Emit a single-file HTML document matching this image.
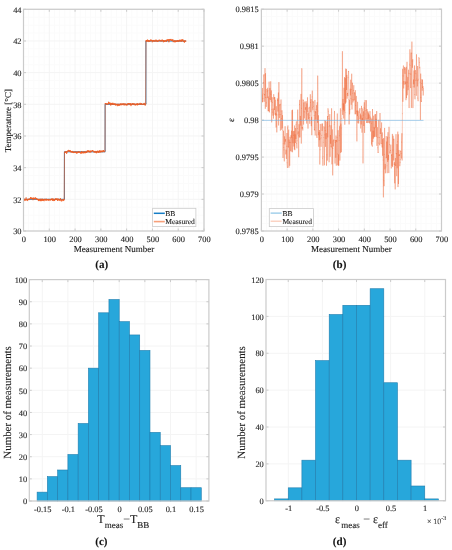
<!DOCTYPE html>
<html><head><meta charset="utf-8"><style>
html,body{margin:0;padding:0;background:#fff;}
svg{display:block;font-family:'Liberation Serif', serif;filter:blur(0.25px);}
text{stroke:#1e1e1e;stroke-width:0.12px;text-rendering:geometricPrecision;}
</style></head><body>
<svg width="452" height="550" viewBox="0 0 452 550">
<rect width="452" height="550" fill="#fff"/>
<line x1="28.66" y1="9.3" x2="28.66" y2="231.0" stroke="#fbfbfb" stroke-width="1"/>
<line x1="33.81" y1="9.3" x2="33.81" y2="231.0" stroke="#fbfbfb" stroke-width="1"/>
<line x1="38.97" y1="9.3" x2="38.97" y2="231.0" stroke="#fbfbfb" stroke-width="1"/>
<line x1="44.13" y1="9.3" x2="44.13" y2="231.0" stroke="#fbfbfb" stroke-width="1"/>
<line x1="54.44" y1="9.3" x2="54.44" y2="231.0" stroke="#fbfbfb" stroke-width="1"/>
<line x1="59.60" y1="9.3" x2="59.60" y2="231.0" stroke="#fbfbfb" stroke-width="1"/>
<line x1="64.76" y1="9.3" x2="64.76" y2="231.0" stroke="#fbfbfb" stroke-width="1"/>
<line x1="69.91" y1="9.3" x2="69.91" y2="231.0" stroke="#fbfbfb" stroke-width="1"/>
<line x1="80.23" y1="9.3" x2="80.23" y2="231.0" stroke="#fbfbfb" stroke-width="1"/>
<line x1="85.39" y1="9.3" x2="85.39" y2="231.0" stroke="#fbfbfb" stroke-width="1"/>
<line x1="90.54" y1="9.3" x2="90.54" y2="231.0" stroke="#fbfbfb" stroke-width="1"/>
<line x1="95.70" y1="9.3" x2="95.70" y2="231.0" stroke="#fbfbfb" stroke-width="1"/>
<line x1="106.01" y1="9.3" x2="106.01" y2="231.0" stroke="#fbfbfb" stroke-width="1"/>
<line x1="111.17" y1="9.3" x2="111.17" y2="231.0" stroke="#fbfbfb" stroke-width="1"/>
<line x1="116.33" y1="9.3" x2="116.33" y2="231.0" stroke="#fbfbfb" stroke-width="1"/>
<line x1="121.49" y1="9.3" x2="121.49" y2="231.0" stroke="#fbfbfb" stroke-width="1"/>
<line x1="131.80" y1="9.3" x2="131.80" y2="231.0" stroke="#fbfbfb" stroke-width="1"/>
<line x1="136.96" y1="9.3" x2="136.96" y2="231.0" stroke="#fbfbfb" stroke-width="1"/>
<line x1="142.11" y1="9.3" x2="142.11" y2="231.0" stroke="#fbfbfb" stroke-width="1"/>
<line x1="147.27" y1="9.3" x2="147.27" y2="231.0" stroke="#fbfbfb" stroke-width="1"/>
<line x1="157.59" y1="9.3" x2="157.59" y2="231.0" stroke="#fbfbfb" stroke-width="1"/>
<line x1="162.74" y1="9.3" x2="162.74" y2="231.0" stroke="#fbfbfb" stroke-width="1"/>
<line x1="167.90" y1="9.3" x2="167.90" y2="231.0" stroke="#fbfbfb" stroke-width="1"/>
<line x1="173.06" y1="9.3" x2="173.06" y2="231.0" stroke="#fbfbfb" stroke-width="1"/>
<line x1="183.37" y1="9.3" x2="183.37" y2="231.0" stroke="#fbfbfb" stroke-width="1"/>
<line x1="188.53" y1="9.3" x2="188.53" y2="231.0" stroke="#fbfbfb" stroke-width="1"/>
<line x1="193.69" y1="9.3" x2="193.69" y2="231.0" stroke="#fbfbfb" stroke-width="1"/>
<line x1="198.84" y1="9.3" x2="198.84" y2="231.0" stroke="#fbfbfb" stroke-width="1"/>
<line x1="23.5" y1="223.08" x2="204.0" y2="223.08" stroke="#fbfbfb" stroke-width="1"/>
<line x1="23.5" y1="215.16" x2="204.0" y2="215.16" stroke="#fbfbfb" stroke-width="1"/>
<line x1="23.5" y1="207.25" x2="204.0" y2="207.25" stroke="#fbfbfb" stroke-width="1"/>
<line x1="23.5" y1="191.41" x2="204.0" y2="191.41" stroke="#fbfbfb" stroke-width="1"/>
<line x1="23.5" y1="183.49" x2="204.0" y2="183.49" stroke="#fbfbfb" stroke-width="1"/>
<line x1="23.5" y1="175.57" x2="204.0" y2="175.57" stroke="#fbfbfb" stroke-width="1"/>
<line x1="23.5" y1="159.74" x2="204.0" y2="159.74" stroke="#fbfbfb" stroke-width="1"/>
<line x1="23.5" y1="151.82" x2="204.0" y2="151.82" stroke="#fbfbfb" stroke-width="1"/>
<line x1="23.5" y1="143.90" x2="204.0" y2="143.90" stroke="#fbfbfb" stroke-width="1"/>
<line x1="23.5" y1="128.07" x2="204.0" y2="128.07" stroke="#fbfbfb" stroke-width="1"/>
<line x1="23.5" y1="120.15" x2="204.0" y2="120.15" stroke="#fbfbfb" stroke-width="1"/>
<line x1="23.5" y1="112.23" x2="204.0" y2="112.23" stroke="#fbfbfb" stroke-width="1"/>
<line x1="23.5" y1="96.40" x2="204.0" y2="96.40" stroke="#fbfbfb" stroke-width="1"/>
<line x1="23.5" y1="88.48" x2="204.0" y2="88.48" stroke="#fbfbfb" stroke-width="1"/>
<line x1="23.5" y1="80.56" x2="204.0" y2="80.56" stroke="#fbfbfb" stroke-width="1"/>
<line x1="23.5" y1="64.72" x2="204.0" y2="64.72" stroke="#fbfbfb" stroke-width="1"/>
<line x1="23.5" y1="56.81" x2="204.0" y2="56.81" stroke="#fbfbfb" stroke-width="1"/>
<line x1="23.5" y1="48.89" x2="204.0" y2="48.89" stroke="#fbfbfb" stroke-width="1"/>
<line x1="23.5" y1="33.05" x2="204.0" y2="33.05" stroke="#fbfbfb" stroke-width="1"/>
<line x1="23.5" y1="25.14" x2="204.0" y2="25.14" stroke="#fbfbfb" stroke-width="1"/>
<line x1="23.5" y1="17.22" x2="204.0" y2="17.22" stroke="#fbfbfb" stroke-width="1"/>
<line x1="23.50" y1="9.3" x2="23.50" y2="231.0" stroke="#f4f4f4" stroke-width="1"/>
<line x1="49.29" y1="9.3" x2="49.29" y2="231.0" stroke="#f4f4f4" stroke-width="1"/>
<line x1="75.07" y1="9.3" x2="75.07" y2="231.0" stroke="#f4f4f4" stroke-width="1"/>
<line x1="100.86" y1="9.3" x2="100.86" y2="231.0" stroke="#f4f4f4" stroke-width="1"/>
<line x1="126.64" y1="9.3" x2="126.64" y2="231.0" stroke="#f4f4f4" stroke-width="1"/>
<line x1="152.43" y1="9.3" x2="152.43" y2="231.0" stroke="#f4f4f4" stroke-width="1"/>
<line x1="178.21" y1="9.3" x2="178.21" y2="231.0" stroke="#f4f4f4" stroke-width="1"/>
<line x1="204.00" y1="9.3" x2="204.00" y2="231.0" stroke="#f4f4f4" stroke-width="1"/>
<line x1="23.5" y1="231.00" x2="204.0" y2="231.00" stroke="#f4f4f4" stroke-width="1"/>
<line x1="23.5" y1="199.33" x2="204.0" y2="199.33" stroke="#f4f4f4" stroke-width="1"/>
<line x1="23.5" y1="167.66" x2="204.0" y2="167.66" stroke="#f4f4f4" stroke-width="1"/>
<line x1="23.5" y1="135.99" x2="204.0" y2="135.99" stroke="#f4f4f4" stroke-width="1"/>
<line x1="23.5" y1="104.31" x2="204.0" y2="104.31" stroke="#f4f4f4" stroke-width="1"/>
<line x1="23.5" y1="72.64" x2="204.0" y2="72.64" stroke="#f4f4f4" stroke-width="1"/>
<line x1="23.5" y1="40.97" x2="204.0" y2="40.97" stroke="#f4f4f4" stroke-width="1"/>
<line x1="23.5" y1="9.30" x2="204.0" y2="9.30" stroke="#f4f4f4" stroke-width="1"/>
<line x1="23.50" y1="231.0" x2="23.50" y2="228.5" stroke="#cbcbcb" stroke-width="1"/>
<line x1="23.50" y1="9.3" x2="23.50" y2="11.8" stroke="#cbcbcb" stroke-width="1"/>
<line x1="49.29" y1="231.0" x2="49.29" y2="228.5" stroke="#cbcbcb" stroke-width="1"/>
<line x1="49.29" y1="9.3" x2="49.29" y2="11.8" stroke="#cbcbcb" stroke-width="1"/>
<line x1="75.07" y1="231.0" x2="75.07" y2="228.5" stroke="#cbcbcb" stroke-width="1"/>
<line x1="75.07" y1="9.3" x2="75.07" y2="11.8" stroke="#cbcbcb" stroke-width="1"/>
<line x1="100.86" y1="231.0" x2="100.86" y2="228.5" stroke="#cbcbcb" stroke-width="1"/>
<line x1="100.86" y1="9.3" x2="100.86" y2="11.8" stroke="#cbcbcb" stroke-width="1"/>
<line x1="126.64" y1="231.0" x2="126.64" y2="228.5" stroke="#cbcbcb" stroke-width="1"/>
<line x1="126.64" y1="9.3" x2="126.64" y2="11.8" stroke="#cbcbcb" stroke-width="1"/>
<line x1="152.43" y1="231.0" x2="152.43" y2="228.5" stroke="#cbcbcb" stroke-width="1"/>
<line x1="152.43" y1="9.3" x2="152.43" y2="11.8" stroke="#cbcbcb" stroke-width="1"/>
<line x1="178.21" y1="231.0" x2="178.21" y2="228.5" stroke="#cbcbcb" stroke-width="1"/>
<line x1="178.21" y1="9.3" x2="178.21" y2="11.8" stroke="#cbcbcb" stroke-width="1"/>
<line x1="204.00" y1="231.0" x2="204.00" y2="228.5" stroke="#cbcbcb" stroke-width="1"/>
<line x1="204.00" y1="9.3" x2="204.00" y2="11.8" stroke="#cbcbcb" stroke-width="1"/>
<line x1="23.5" y1="231.00" x2="26.0" y2="231.00" stroke="#cbcbcb" stroke-width="1"/>
<line x1="204.0" y1="231.00" x2="201.5" y2="231.00" stroke="#cbcbcb" stroke-width="1"/>
<line x1="23.5" y1="199.33" x2="26.0" y2="199.33" stroke="#cbcbcb" stroke-width="1"/>
<line x1="204.0" y1="199.33" x2="201.5" y2="199.33" stroke="#cbcbcb" stroke-width="1"/>
<line x1="23.5" y1="167.66" x2="26.0" y2="167.66" stroke="#cbcbcb" stroke-width="1"/>
<line x1="204.0" y1="167.66" x2="201.5" y2="167.66" stroke="#cbcbcb" stroke-width="1"/>
<line x1="23.5" y1="135.99" x2="26.0" y2="135.99" stroke="#cbcbcb" stroke-width="1"/>
<line x1="204.0" y1="135.99" x2="201.5" y2="135.99" stroke="#cbcbcb" stroke-width="1"/>
<line x1="23.5" y1="104.31" x2="26.0" y2="104.31" stroke="#cbcbcb" stroke-width="1"/>
<line x1="204.0" y1="104.31" x2="201.5" y2="104.31" stroke="#cbcbcb" stroke-width="1"/>
<line x1="23.5" y1="72.64" x2="26.0" y2="72.64" stroke="#cbcbcb" stroke-width="1"/>
<line x1="204.0" y1="72.64" x2="201.5" y2="72.64" stroke="#cbcbcb" stroke-width="1"/>
<line x1="23.5" y1="40.97" x2="26.0" y2="40.97" stroke="#cbcbcb" stroke-width="1"/>
<line x1="204.0" y1="40.97" x2="201.5" y2="40.97" stroke="#cbcbcb" stroke-width="1"/>
<line x1="23.5" y1="9.30" x2="26.0" y2="9.30" stroke="#cbcbcb" stroke-width="1"/>
<line x1="204.0" y1="9.30" x2="201.5" y2="9.30" stroke="#cbcbcb" stroke-width="1"/>
<polyline fill="none" stroke="#0072BD" stroke-width="0.9" points="23.8,199.3 64.4,199.3 64.4,151.8 105.1,151.8 105.1,104.3 145.9,104.3 145.9,41.0 185.9,41.0"/>
<g stroke="#F25A1E" stroke-width="0.8" stroke-opacity="0.85" stroke-linecap="round" fill="none">
<path d="M23.8,198.4L24.0,200.7"/>
<path d="M24.0,200.7L24.3,199.3"/>
<path d="M24.3,199.3L24.5,199.7"/>
<path d="M24.5,199.7L24.8,199.7"/>
<path d="M24.8,199.7L25.0,199.6"/>
<path d="M25.0,199.6L25.3,200.3"/>
<path d="M25.3,200.3L25.6,199.4"/>
<path d="M25.6,199.4L25.8,199.8"/>
<path d="M25.8,199.8L26.1,197.8"/>
<path d="M26.1,197.8L26.3,199.6"/>
<path d="M26.3,199.6L26.6,199.8"/>
<path d="M26.6,199.8L26.9,200.1"/>
<path d="M26.9,200.1L27.1,200.3"/>
<path d="M27.1,200.3L27.4,200.4"/>
<path d="M27.4,200.4L27.6,199.8"/>
<path d="M27.6,199.8L27.9,199.2"/>
<path d="M27.9,199.2L28.1,199.8"/>
<path d="M28.1,199.8L28.4,199.2"/>
<path d="M28.4,199.2L28.7,199.8"/>
<path d="M28.7,199.8L28.9,199.6"/>
<path d="M28.9,199.6L29.2,198.9"/>
<path d="M29.2,198.9L29.4,199.1"/>
<path d="M29.4,199.1L29.7,199.2"/>
<path d="M29.7,199.2L29.9,199.0"/>
<path d="M29.9,199.0L30.2,198.3"/>
<path d="M30.2,198.3L30.5,197.5"/>
<path d="M30.5,197.5L30.7,198.6"/>
<path d="M30.7,198.6L31.0,198.5"/>
<path d="M31.0,198.5L31.2,197.7"/>
<path d="M31.2,197.7L31.5,198.8"/>
<path d="M31.5,198.8L31.8,198.6"/>
<path d="M31.8,198.6L32.0,198.3"/>
<path d="M32.0,198.3L32.3,198.5"/>
<path d="M32.3,198.5L32.5,198.6"/>
<path d="M32.5,198.6L32.8,198.2"/>
<path d="M32.8,198.2L33.0,199.8"/>
<path d="M33.0,199.8L33.3,197.9"/>
<path d="M33.3,197.9L33.6,198.8"/>
<path d="M33.6,198.8L33.8,199.1"/>
<path d="M33.8,199.1L34.1,198.3"/>
<path d="M34.1,198.3L34.3,198.2"/>
<path d="M34.3,198.2L34.6,198.8"/>
<path d="M34.6,198.8L34.8,198.9"/>
<path d="M34.8,198.9L35.1,198.3"/>
<path d="M35.1,198.3L35.4,198.5"/>
<path d="M35.4,198.5L35.6,197.7"/>
<path d="M35.6,197.7L35.9,198.3"/>
<path d="M35.9,198.3L36.1,198.9"/>
<path d="M36.1,198.9L36.4,198.5"/>
<path d="M36.4,198.5L36.7,199.4"/>
<path d="M36.7,199.4L36.9,199.6"/>
<path d="M36.9,199.6L37.2,198.8"/>
<path d="M37.2,198.8L37.4,199.1"/>
<path d="M37.4,199.1L37.7,199.7"/>
<path d="M37.7,199.7L37.9,199.9"/>
<path d="M37.9,199.9L38.2,199.4"/>
<path d="M38.2,199.4L38.5,200.7"/>
<path d="M38.5,200.7L38.7,199.3"/>
<path d="M38.7,199.3L39.0,199.5"/>
<path d="M39.0,199.5L39.2,200.4"/>
<path d="M39.2,200.4L39.5,199.6"/>
<path d="M39.5,199.6L39.7,200.1"/>
<path d="M39.7,200.1L40.0,199.1"/>
<path d="M40.0,199.1L40.3,200.8"/>
<path d="M40.3,200.8L40.5,200.4"/>
<path d="M40.5,200.4L40.8,199.4"/>
<path d="M40.8,199.4L41.0,199.1"/>
<path d="M41.0,199.1L41.3,200.8"/>
<path d="M41.3,200.8L41.5,200.2"/>
<path d="M41.5,200.2L41.8,199.6"/>
<path d="M41.8,199.6L42.1,200.3"/>
<path d="M42.1,200.3L42.3,199.0"/>
<path d="M42.3,199.0L42.6,200.3"/>
<path d="M42.6,200.3L42.8,199.6"/>
<path d="M42.8,199.6L43.1,200.2"/>
<path d="M43.1,200.2L43.4,199.4"/>
<path d="M43.4,199.4L43.6,200.2"/>
<path d="M43.6,200.2L43.9,200.1"/>
<path d="M43.9,200.1L44.1,200.8"/>
<path d="M44.1,200.8L44.4,199.2"/>
<path d="M44.4,199.2L44.6,199.5"/>
<path d="M44.6,199.5L44.9,199.4"/>
<path d="M44.9,199.4L45.2,199.1"/>
<path d="M45.2,199.1L45.4,199.6"/>
<path d="M45.4,199.6L45.7,200.1"/>
<path d="M45.7,200.1L45.9,200.1"/>
<path d="M45.9,200.1L46.2,200.0"/>
<path d="M46.2,200.0L46.4,199.1"/>
<path d="M46.4,199.1L46.7,200.1"/>
<path d="M46.7,200.1L47.0,199.8"/>
<path d="M47.0,199.8L47.2,199.8"/>
<path d="M47.2,199.8L47.5,199.6"/>
<path d="M47.5,199.6L47.7,199.5"/>
<path d="M47.7,199.5L48.0,200.0"/>
<path d="M48.0,200.0L48.3,200.5"/>
<path d="M48.3,200.5L48.5,199.6"/>
<path d="M48.5,199.6L48.8,199.2"/>
<path d="M48.8,199.2L49.0,199.5"/>
<path d="M49.0,199.5L49.3,199.8"/>
<path d="M49.3,199.8L49.5,200.2"/>
<path d="M49.5,200.2L49.8,199.8"/>
<path d="M49.8,199.8L50.1,200.0"/>
<path d="M50.1,200.0L50.3,199.3"/>
<path d="M50.3,199.3L50.6,200.0"/>
<path d="M50.6,200.0L50.8,199.5"/>
<path d="M50.8,199.5L51.1,199.7"/>
<path d="M51.1,199.7L51.3,199.4"/>
<path d="M51.3,199.4L51.6,199.6"/>
<path d="M51.6,199.6L51.9,198.6"/>
<path d="M51.9,198.6L52.1,199.1"/>
<path d="M52.1,199.1L52.4,199.0"/>
<path d="M52.4,199.0L52.6,200.6"/>
<path d="M52.6,200.6L52.9,199.9"/>
<path d="M52.9,199.9L53.2,199.8"/>
<path d="M53.2,199.8L53.4,199.3"/>
<path d="M53.4,199.3L53.7,200.7"/>
<path d="M53.7,200.7L53.9,199.1"/>
<path d="M53.9,199.1L54.2,199.3"/>
<path d="M54.2,199.3L54.4,200.6"/>
<path d="M54.4,200.6L54.7,200.1"/>
<path d="M54.7,200.1L55.0,200.0"/>
<path d="M55.0,200.0L55.2,199.6"/>
<path d="M55.2,199.6L55.5,199.3"/>
<path d="M55.5,199.3L55.7,198.5"/>
<path d="M55.7,198.5L56.0,199.7"/>
<path d="M56.0,199.7L56.2,199.2"/>
<path d="M56.2,199.2L56.5,199.4"/>
<path d="M56.5,199.4L56.8,198.8"/>
<path d="M56.8,198.8L57.0,199.2"/>
<path d="M57.0,199.2L57.3,199.1"/>
<path d="M57.3,199.1L57.5,200.5"/>
<path d="M57.5,200.5L57.8,199.9"/>
<path d="M57.8,199.9L58.1,200.0"/>
<path d="M58.1,200.0L58.3,198.9"/>
<path d="M58.3,198.9L58.6,199.2"/>
<path d="M58.6,199.2L58.8,199.9"/>
<path d="M58.8,199.9L59.1,199.9"/>
<path d="M59.1,199.9L59.3,199.4"/>
<path d="M59.3,199.4L59.6,200.2"/>
<path d="M59.6,200.2L59.9,200.2"/>
<path d="M59.9,200.2L60.1,199.5"/>
<path d="M60.1,199.5L60.4,198.4"/>
<path d="M60.4,198.4L60.6,199.8"/>
<path d="M60.6,199.8L60.9,200.2"/>
<path d="M60.9,200.2L61.1,200.8"/>
<path d="M61.1,200.8L61.4,201.1"/>
<path d="M61.4,201.1L61.7,200.0"/>
<path d="M61.7,200.0L61.9,199.7"/>
<path d="M61.9,199.7L62.2,200.1"/>
<path d="M62.2,200.1L62.4,199.8"/>
<path d="M62.4,199.8L62.7,199.9"/>
<path d="M62.7,199.9L63.0,199.8"/>
<path d="M63.0,199.8L63.2,200.7"/>
<path d="M63.2,200.7L63.5,200.2"/>
<path d="M63.5,200.2L63.7,199.7"/>
<path d="M63.7,199.7L64.0,199.9"/>
<path d="M64.0,199.9L64.2,199.8"/>
<path d="M64.2,199.8L64.5,152.6"/>
<path d="M64.5,152.6L64.8,152.1"/>
<path d="M64.8,152.1L65.0,151.7"/>
<path d="M65.0,151.7L65.3,152.4"/>
<path d="M65.3,152.4L65.5,152.4"/>
<path d="M65.5,152.4L65.8,151.9"/>
<path d="M65.8,151.9L66.0,152.1"/>
<path d="M66.0,152.1L66.3,151.6"/>
<path d="M66.3,151.6L66.6,153.5"/>
<path d="M66.6,153.5L66.8,152.0"/>
<path d="M66.8,152.0L67.1,152.3"/>
<path d="M67.1,152.3L67.3,151.6"/>
<path d="M67.3,151.6L67.6,151.0"/>
<path d="M67.6,151.0L67.9,150.7"/>
<path d="M67.9,150.7L68.1,150.5"/>
<path d="M68.1,150.5L68.4,151.0"/>
<path d="M68.4,151.0L68.6,150.5"/>
<path d="M68.6,150.5L68.9,151.2"/>
<path d="M68.9,151.2L69.1,151.1"/>
<path d="M69.1,151.1L69.4,150.9"/>
<path d="M69.4,150.9L69.7,151.6"/>
<path d="M69.7,151.6L69.9,150.5"/>
<path d="M69.9,150.5L70.2,151.2"/>
<path d="M70.2,151.2L70.4,150.8"/>
<path d="M70.4,150.8L70.7,151.8"/>
<path d="M70.7,151.8L70.9,151.8"/>
<path d="M70.9,151.8L71.2,151.8"/>
<path d="M71.2,151.8L71.5,151.6"/>
<path d="M71.5,151.6L71.7,152.2"/>
<path d="M71.7,152.2L72.0,151.9"/>
<path d="M72.0,151.9L72.2,152.1"/>
<path d="M72.2,152.1L72.5,151.3"/>
<path d="M72.5,151.3L72.8,152.4"/>
<path d="M72.8,152.4L73.0,151.5"/>
<path d="M73.0,151.5L73.3,152.4"/>
<path d="M73.3,152.4L73.5,152.6"/>
<path d="M73.5,152.6L73.8,152.4"/>
<path d="M73.8,152.4L74.0,152.7"/>
<path d="M74.0,152.7L74.3,152.1"/>
<path d="M74.3,152.1L74.6,152.0"/>
<path d="M74.6,152.0L74.8,152.3"/>
<path d="M74.8,152.3L75.1,152.1"/>
<path d="M75.1,152.1L75.3,151.7"/>
<path d="M75.3,151.7L75.6,152.4"/>
<path d="M75.6,152.4L75.8,152.5"/>
<path d="M75.8,152.5L76.1,152.6"/>
<path d="M76.1,152.6L76.4,153.0"/>
<path d="M76.4,153.0L76.6,152.0"/>
<path d="M76.6,152.0L76.9,153.2"/>
<path d="M76.9,153.2L77.1,152.2"/>
<path d="M77.1,152.2L77.4,152.5"/>
<path d="M77.4,152.5L77.7,151.9"/>
<path d="M77.7,151.9L77.9,152.3"/>
<path d="M77.9,152.3L78.2,152.6"/>
<path d="M78.2,152.6L78.4,151.7"/>
<path d="M78.4,151.7L78.7,152.1"/>
<path d="M78.7,152.1L78.9,152.0"/>
<path d="M78.9,152.0L79.2,152.1"/>
<path d="M79.2,152.1L79.5,152.1"/>
<path d="M79.5,152.1L79.7,152.0"/>
<path d="M79.7,152.0L80.0,152.5"/>
<path d="M80.0,152.5L80.2,152.2"/>
<path d="M80.2,152.2L80.5,153.2"/>
<path d="M80.5,153.2L80.7,152.5"/>
<path d="M80.7,152.5L81.0,152.9"/>
<path d="M81.0,152.9L81.3,151.8"/>
<path d="M81.3,151.8L81.5,151.5"/>
<path d="M81.5,151.5L81.8,153.3"/>
<path d="M81.8,153.3L82.0,152.1"/>
<path d="M82.0,152.1L82.3,152.2"/>
<path d="M82.3,152.2L82.5,152.6"/>
<path d="M82.5,152.6L82.8,152.0"/>
<path d="M82.8,152.0L83.1,152.3"/>
<path d="M83.1,152.3L83.3,153.0"/>
<path d="M83.3,153.0L83.6,152.1"/>
<path d="M83.6,152.1L83.8,152.1"/>
<path d="M83.8,152.1L84.1,152.0"/>
<path d="M84.1,152.0L84.4,152.7"/>
<path d="M84.4,152.7L84.6,151.9"/>
<path d="M84.6,151.9L84.9,151.9"/>
<path d="M84.9,151.9L85.1,153.0"/>
<path d="M85.1,153.0L85.4,152.7"/>
<path d="M85.4,152.7L85.6,152.2"/>
<path d="M85.6,152.2L85.9,152.3"/>
<path d="M85.9,152.3L86.2,151.3"/>
<path d="M86.2,151.3L86.4,152.0"/>
<path d="M86.4,152.0L86.7,152.6"/>
<path d="M86.7,152.6L86.9,152.3"/>
<path d="M86.9,152.3L87.2,151.8"/>
<path d="M87.2,151.8L87.4,150.6"/>
<path d="M87.4,150.6L87.7,151.8"/>
<path d="M87.7,151.8L88.0,151.5"/>
<path d="M88.0,151.5L88.2,151.3"/>
<path d="M88.2,151.3L88.5,151.5"/>
<path d="M88.5,151.5L88.7,150.5"/>
<path d="M88.7,150.5L89.0,152.0"/>
<path d="M89.0,152.0L89.3,151.3"/>
<path d="M89.3,151.3L89.5,151.6"/>
<path d="M89.5,151.6L89.8,151.3"/>
<path d="M89.8,151.3L90.0,152.4"/>
<path d="M90.0,152.4L90.3,150.8"/>
<path d="M90.3,150.8L90.5,151.6"/>
<path d="M90.5,151.6L90.8,151.6"/>
<path d="M90.8,151.6L91.1,151.9"/>
<path d="M91.1,151.9L91.3,151.8"/>
<path d="M91.3,151.8L91.6,151.1"/>
<path d="M91.6,151.1L91.8,150.8"/>
<path d="M91.8,150.8L92.1,150.7"/>
<path d="M92.1,150.7L92.3,150.5"/>
<path d="M92.3,150.5L92.6,150.8"/>
<path d="M92.6,150.8L92.9,151.2"/>
<path d="M92.9,151.2L93.1,150.8"/>
<path d="M93.1,150.8L93.4,151.2"/>
<path d="M93.4,151.2L93.6,151.9"/>
<path d="M93.6,151.9L93.9,151.7"/>
<path d="M93.9,151.7L94.2,151.6"/>
<path d="M94.2,151.6L94.4,152.0"/>
<path d="M94.4,152.0L94.7,152.2"/>
<path d="M94.7,152.2L94.9,151.9"/>
<path d="M94.9,151.9L95.2,151.3"/>
<path d="M95.2,151.3L95.4,152.1"/>
<path d="M95.4,152.1L95.7,152.2"/>
<path d="M95.7,152.2L96.0,152.2"/>
<path d="M96.0,152.2L96.2,151.6"/>
<path d="M96.2,151.6L96.5,152.9"/>
<path d="M96.5,152.9L96.7,152.0"/>
<path d="M96.7,152.0L97.0,151.6"/>
<path d="M97.0,151.6L97.2,152.3"/>
<path d="M97.2,152.3L97.5,151.0"/>
<path d="M97.5,151.0L97.8,151.8"/>
<path d="M97.8,151.8L98.0,151.9"/>
<path d="M98.0,151.9L98.3,151.6"/>
<path d="M98.3,151.6L98.5,152.5"/>
<path d="M98.5,152.5L98.8,152.2"/>
<path d="M98.8,152.2L99.1,151.0"/>
<path d="M99.1,151.0L99.3,152.3"/>
<path d="M99.3,152.3L99.6,151.0"/>
<path d="M99.6,151.0L99.8,151.7"/>
<path d="M99.8,151.7L100.1,150.8"/>
<path d="M100.1,150.8L100.3,151.2"/>
<path d="M100.3,151.2L100.6,152.2"/>
<path d="M100.6,152.2L100.9,151.5"/>
<path d="M100.9,151.5L101.1,151.1"/>
<path d="M101.1,151.1L101.4,151.7"/>
<path d="M101.4,151.7L101.6,151.7"/>
<path d="M101.6,151.7L101.9,150.9"/>
<path d="M101.9,150.9L102.1,151.5"/>
<path d="M102.1,151.5L102.4,152.0"/>
<path d="M102.4,152.0L102.7,151.4"/>
<path d="M102.7,151.4L102.9,150.7"/>
<path d="M102.9,150.7L103.2,151.3"/>
<path d="M103.2,151.3L103.4,150.7"/>
<path d="M103.4,150.7L103.7,150.5"/>
<path d="M103.7,150.5L104.0,151.2"/>
<path d="M104.0,151.2L104.2,151.6"/>
<path d="M104.2,151.6L104.5,151.9"/>
<path d="M104.5,151.9L104.7,151.3"/>
<path d="M104.7,151.3L105.0,150.9"/>
<path d="M105.0,150.9L105.2,103.5"/>
<path d="M105.2,103.5L105.5,103.5"/>
<path d="M105.5,103.5L105.8,103.8"/>
<path d="M105.8,103.8L106.0,103.4"/>
<path d="M106.0,103.4L106.3,103.8"/>
<path d="M106.3,103.8L106.5,103.8"/>
<path d="M106.5,103.8L106.8,104.2"/>
<path d="M106.8,104.2L107.0,104.4"/>
<path d="M107.0,104.4L107.3,103.9"/>
<path d="M107.3,103.9L107.6,104.3"/>
<path d="M107.6,104.3L107.8,104.3"/>
<path d="M107.8,104.3L108.1,103.3"/>
<path d="M108.1,103.3L108.3,103.6"/>
<path d="M108.3,103.6L108.6,102.1"/>
<path d="M108.6,102.1L108.9,103.0"/>
<path d="M108.9,103.0L109.1,103.9"/>
<path d="M109.1,103.9L109.4,103.0"/>
<path d="M109.4,103.0L109.6,103.2"/>
<path d="M109.6,103.2L109.9,103.6"/>
<path d="M109.9,103.6L110.1,103.0"/>
<path d="M110.1,103.0L110.4,104.1"/>
<path d="M110.4,104.1L110.7,105.2"/>
<path d="M110.7,105.2L110.9,103.4"/>
<path d="M110.9,103.4L111.2,104.0"/>
<path d="M111.2,104.0L111.4,103.4"/>
<path d="M111.4,103.4L111.7,104.2"/>
<path d="M111.7,104.2L111.9,104.4"/>
<path d="M111.9,104.4L112.2,103.2"/>
<path d="M112.2,103.2L112.5,104.4"/>
<path d="M112.5,104.4L112.7,103.8"/>
<path d="M112.7,103.8L113.0,103.2"/>
<path d="M113.0,103.2L113.2,104.1"/>
<path d="M113.2,104.1L113.5,104.2"/>
<path d="M113.5,104.2L113.8,104.1"/>
<path d="M113.8,104.1L114.0,103.9"/>
<path d="M114.0,103.9L114.3,104.7"/>
<path d="M114.3,104.7L114.5,104.4"/>
<path d="M114.5,104.4L114.8,104.3"/>
<path d="M114.8,104.3L115.0,103.4"/>
<path d="M115.0,103.4L115.3,104.7"/>
<path d="M115.3,104.7L115.6,105.0"/>
<path d="M115.6,105.0L115.8,104.4"/>
<path d="M115.8,104.4L116.1,105.0"/>
<path d="M116.1,105.0L116.3,104.8"/>
<path d="M116.3,104.8L116.6,104.7"/>
<path d="M116.6,104.7L116.8,104.1"/>
<path d="M116.8,104.1L117.1,104.8"/>
<path d="M117.1,104.8L117.4,104.6"/>
<path d="M117.4,104.6L117.6,105.8"/>
<path d="M117.6,105.8L117.9,104.8"/>
<path d="M117.9,104.8L118.1,104.0"/>
<path d="M118.1,104.0L118.4,105.1"/>
<path d="M118.4,105.1L118.6,105.1"/>
<path d="M118.6,105.1L118.9,105.5"/>
<path d="M118.9,105.5L119.2,104.7"/>
<path d="M119.2,104.7L119.4,104.8"/>
<path d="M119.4,104.8L119.7,105.3"/>
<path d="M119.7,105.3L119.9,104.2"/>
<path d="M119.9,104.2L120.2,104.5"/>
<path d="M120.2,104.5L120.5,104.1"/>
<path d="M120.5,104.1L120.7,104.7"/>
<path d="M120.7,104.7L121.0,103.4"/>
<path d="M121.0,103.4L121.2,104.4"/>
<path d="M121.2,104.4L121.5,104.7"/>
<path d="M121.5,104.7L121.7,104.9"/>
<path d="M121.7,104.9L122.0,104.7"/>
<path d="M122.0,104.7L122.3,104.1"/>
<path d="M122.3,104.1L122.5,104.6"/>
<path d="M122.5,104.6L122.8,103.9"/>
<path d="M122.8,103.9L123.0,104.0"/>
<path d="M123.0,104.0L123.3,103.6"/>
<path d="M123.3,103.6L123.5,104.0"/>
<path d="M123.5,104.0L123.8,104.3"/>
<path d="M123.8,104.3L124.1,105.2"/>
<path d="M124.1,105.2L124.3,104.2"/>
<path d="M124.3,104.2L124.6,103.8"/>
<path d="M124.6,103.8L124.8,104.0"/>
<path d="M124.8,104.0L125.1,103.9"/>
<path d="M125.1,103.9L125.4,104.5"/>
<path d="M125.4,104.5L125.6,104.6"/>
<path d="M125.6,104.6L125.9,105.1"/>
<path d="M125.9,105.1L126.1,104.0"/>
<path d="M126.1,104.0L126.4,104.5"/>
<path d="M126.4,104.5L126.6,104.7"/>
<path d="M126.6,104.7L126.9,105.2"/>
<path d="M126.9,105.2L127.2,104.8"/>
<path d="M127.2,104.8L127.4,103.9"/>
<path d="M127.4,103.9L127.7,104.1"/>
<path d="M127.7,104.1L127.9,104.8"/>
<path d="M127.9,104.8L128.2,103.6"/>
<path d="M128.2,103.6L128.4,103.6"/>
<path d="M128.4,103.6L128.7,103.7"/>
<path d="M128.7,103.7L129.0,103.7"/>
<path d="M129.0,103.7L129.2,103.5"/>
<path d="M129.2,103.5L129.5,103.9"/>
<path d="M129.5,103.9L129.7,104.0"/>
<path d="M129.7,104.0L130.0,104.8"/>
<path d="M130.0,104.8L130.3,103.8"/>
<path d="M130.3,103.8L130.5,104.3"/>
<path d="M130.5,104.3L130.8,103.5"/>
<path d="M130.8,103.5L131.0,105.7"/>
<path d="M131.0,105.7L131.3,104.3"/>
<path d="M131.3,104.3L131.5,104.1"/>
<path d="M131.5,104.1L131.8,104.5"/>
<path d="M131.8,104.5L132.1,103.8"/>
<path d="M132.1,103.8L132.3,103.6"/>
<path d="M132.3,103.6L132.6,103.7"/>
<path d="M132.6,103.7L132.8,104.5"/>
<path d="M132.8,104.5L133.1,104.4"/>
<path d="M133.1,104.4L133.3,104.0"/>
<path d="M133.3,104.0L133.6,103.7"/>
<path d="M133.6,103.7L133.9,104.3"/>
<path d="M133.9,104.3L134.1,104.5"/>
<path d="M134.1,104.5L134.4,104.2"/>
<path d="M134.4,104.2L134.6,103.8"/>
<path d="M134.6,103.8L134.9,104.8"/>
<path d="M134.9,104.8L135.2,105.0"/>
<path d="M135.2,105.0L135.4,104.2"/>
<path d="M135.4,104.2L135.7,104.9"/>
<path d="M135.7,104.9L135.9,104.6"/>
<path d="M135.9,104.6L136.2,104.2"/>
<path d="M136.2,104.2L136.4,103.9"/>
<path d="M136.4,103.9L136.7,104.6"/>
<path d="M136.7,104.6L137.0,103.9"/>
<path d="M137.0,103.9L137.2,104.9"/>
<path d="M137.2,104.9L137.5,103.7"/>
<path d="M137.5,103.7L137.7,104.8"/>
<path d="M137.7,104.8L138.0,104.6"/>
<path d="M138.0,104.6L138.2,103.9"/>
<path d="M138.2,103.9L138.5,104.5"/>
<path d="M138.5,104.5L138.8,104.4"/>
<path d="M138.8,104.4L139.0,104.1"/>
<path d="M139.0,104.1L139.3,103.8"/>
<path d="M139.3,103.8L139.5,104.1"/>
<path d="M139.5,104.1L139.8,103.8"/>
<path d="M139.8,103.8L140.1,103.2"/>
<path d="M140.1,103.2L140.3,104.3"/>
<path d="M140.3,104.3L140.6,104.2"/>
<path d="M140.6,104.2L140.8,104.3"/>
<path d="M140.8,104.3L141.1,103.7"/>
<path d="M141.1,103.7L141.3,103.7"/>
<path d="M141.3,103.7L141.6,103.7"/>
<path d="M141.6,103.7L141.9,104.4"/>
<path d="M141.9,104.4L142.1,104.6"/>
<path d="M142.1,104.6L142.4,104.1"/>
<path d="M142.4,104.1L142.6,104.4"/>
<path d="M142.6,104.4L142.9,104.1"/>
<path d="M142.9,104.1L143.1,103.9"/>
<path d="M143.1,103.9L143.4,104.4"/>
<path d="M143.4,104.4L143.7,104.1"/>
<path d="M143.7,104.1L143.9,104.1"/>
<path d="M143.9,104.1L144.2,103.4"/>
<path d="M144.2,103.4L144.4,103.2"/>
<path d="M144.4,103.2L144.7,104.4"/>
<path d="M144.7,104.4L145.0,104.2"/>
<path d="M145.0,104.2L145.2,105.3"/>
<path d="M145.2,105.3L145.5,104.1"/>
<path d="M145.5,104.1L145.7,103.9"/>
<path d="M145.7,103.9L146.0,41.0"/>
<path d="M146.0,41.0L146.2,40.4"/>
<path d="M146.2,40.4L146.5,41.5"/>
<path d="M146.5,41.5L146.8,40.6"/>
<path d="M146.8,40.6L147.0,40.3"/>
<path d="M147.0,40.3L147.3,41.1"/>
<path d="M147.3,41.1L147.5,40.0"/>
<path d="M147.5,40.0L147.8,40.2"/>
<path d="M147.8,40.2L148.0,41.3"/>
<path d="M148.0,41.3L148.3,41.5"/>
<path d="M148.3,41.5L148.6,40.4"/>
<path d="M148.6,40.4L148.8,40.7"/>
<path d="M148.8,40.7L149.1,41.5"/>
<path d="M149.1,41.5L149.3,40.8"/>
<path d="M149.3,40.8L149.6,41.0"/>
<path d="M149.6,41.0L149.8,41.3"/>
<path d="M149.8,41.3L150.1,40.9"/>
<path d="M150.1,40.9L150.4,40.9"/>
<path d="M150.4,40.9L150.6,40.0"/>
<path d="M150.6,40.0L150.9,40.0"/>
<path d="M150.9,40.0L151.1,40.4"/>
<path d="M151.1,40.4L151.4,40.3"/>
<path d="M151.4,40.3L151.7,40.4"/>
<path d="M151.7,40.4L151.9,40.9"/>
<path d="M151.9,40.9L152.2,41.9"/>
<path d="M152.2,41.9L152.4,40.9"/>
<path d="M152.4,40.9L152.7,40.9"/>
<path d="M152.7,40.9L152.9,40.4"/>
<path d="M152.9,40.4L153.2,41.2"/>
<path d="M153.2,41.2L153.5,40.9"/>
<path d="M153.5,40.9L153.7,40.9"/>
<path d="M153.7,40.9L154.0,40.3"/>
<path d="M154.0,40.3L154.2,41.0"/>
<path d="M154.2,41.0L154.5,41.3"/>
<path d="M154.5,41.3L154.7,40.8"/>
<path d="M154.7,40.8L155.0,41.1"/>
<path d="M155.0,41.1L155.3,40.8"/>
<path d="M155.3,40.8L155.5,40.9"/>
<path d="M155.5,40.9L155.8,40.8"/>
<path d="M155.8,40.8L156.0,39.9"/>
<path d="M156.0,39.9L156.3,40.9"/>
<path d="M156.3,40.9L156.6,40.8"/>
<path d="M156.6,40.8L156.8,41.1"/>
<path d="M156.8,41.1L157.1,40.7"/>
<path d="M157.1,40.7L157.3,41.6"/>
<path d="M157.3,41.6L157.6,41.4"/>
<path d="M157.6,41.4L157.8,40.8"/>
<path d="M157.8,40.8L158.1,40.5"/>
<path d="M158.1,40.5L158.4,40.9"/>
<path d="M158.4,40.9L158.6,41.0"/>
<path d="M158.6,41.0L158.9,41.1"/>
<path d="M158.9,41.1L159.1,40.7"/>
<path d="M159.1,40.7L159.4,40.0"/>
<path d="M159.4,40.0L159.6,40.5"/>
<path d="M159.6,40.5L159.9,40.7"/>
<path d="M159.9,40.7L160.2,40.5"/>
<path d="M160.2,40.5L160.4,41.0"/>
<path d="M160.4,41.0L160.7,40.7"/>
<path d="M160.7,40.7L160.9,40.6"/>
<path d="M160.9,40.6L161.2,40.5"/>
<path d="M161.2,40.5L161.5,40.8"/>
<path d="M161.5,40.8L161.7,41.3"/>
<path d="M161.7,41.3L162.0,40.1"/>
<path d="M162.0,40.1L162.2,40.0"/>
<path d="M162.2,40.0L162.5,40.9"/>
<path d="M162.5,40.9L162.7,40.6"/>
<path d="M162.7,40.6L163.0,40.8"/>
<path d="M163.0,40.8L163.3,40.7"/>
<path d="M163.3,40.7L163.5,41.9"/>
<path d="M163.5,41.9L163.8,40.5"/>
<path d="M163.8,40.5L164.0,41.5"/>
<path d="M164.0,41.5L164.3,40.8"/>
<path d="M164.3,40.8L164.5,41.3"/>
<path d="M164.5,41.3L164.8,41.2"/>
<path d="M164.8,41.2L165.1,41.0"/>
<path d="M165.1,41.0L165.3,40.6"/>
<path d="M165.3,40.6L165.6,41.2"/>
<path d="M165.6,41.2L165.8,40.9"/>
<path d="M165.8,40.9L166.1,41.0"/>
<path d="M166.1,41.0L166.4,41.6"/>
<path d="M166.4,41.6L166.6,40.0"/>
<path d="M166.6,40.0L166.9,40.4"/>
<path d="M166.9,40.4L167.1,40.4"/>
<path d="M167.1,40.4L167.4,39.8"/>
<path d="M167.4,39.8L167.6,40.7"/>
<path d="M167.6,40.7L167.9,40.3"/>
<path d="M167.9,40.3L168.2,39.4"/>
<path d="M168.2,39.4L168.4,39.8"/>
<path d="M168.4,39.8L168.7,41.2"/>
<path d="M168.7,41.2L168.9,41.9"/>
<path d="M168.9,41.9L169.2,40.8"/>
<path d="M169.2,40.8L169.4,39.5"/>
<path d="M169.4,39.5L169.7,40.0"/>
<path d="M169.7,40.0L170.0,39.8"/>
<path d="M170.0,39.8L170.2,39.3"/>
<path d="M170.2,39.3L170.5,40.1"/>
<path d="M170.5,40.1L170.7,39.8"/>
<path d="M170.7,39.8L171.0,39.6"/>
<path d="M171.0,39.6L171.3,40.0"/>
<path d="M171.3,40.0L171.5,40.0"/>
<path d="M171.5,40.0L171.8,40.6"/>
<path d="M171.8,40.6L172.0,40.1"/>
<path d="M172.0,40.1L172.3,40.8"/>
<path d="M172.3,40.8L172.5,40.1"/>
<path d="M172.5,40.1L172.8,39.5"/>
<path d="M172.8,39.5L173.1,41.1"/>
<path d="M173.1,41.1L173.3,41.8"/>
<path d="M173.3,41.8L173.6,41.3"/>
<path d="M173.6,41.3L173.8,40.9"/>
<path d="M173.8,40.9L174.1,40.7"/>
<path d="M174.1,40.7L174.3,40.8"/>
<path d="M174.3,40.8L174.6,41.8"/>
<path d="M174.6,41.8L174.9,41.8"/>
<path d="M174.9,41.8L175.1,40.9"/>
<path d="M175.1,40.9L175.4,41.8"/>
<path d="M175.4,41.8L175.6,40.9"/>
<path d="M175.6,40.9L175.9,41.5"/>
<path d="M175.9,41.5L176.2,41.1"/>
<path d="M176.2,41.1L176.4,41.1"/>
<path d="M176.4,41.1L176.7,41.1"/>
<path d="M176.7,41.1L176.9,41.0"/>
<path d="M176.9,41.0L177.2,41.5"/>
<path d="M177.2,41.5L177.4,40.7"/>
<path d="M177.4,40.7L177.7,40.9"/>
<path d="M177.7,40.9L178.0,40.9"/>
<path d="M178.0,40.9L178.2,40.4"/>
<path d="M178.2,40.4L178.5,41.3"/>
<path d="M178.5,41.3L178.7,41.2"/>
<path d="M178.7,41.2L179.0,41.2"/>
<path d="M179.0,41.2L179.2,40.9"/>
<path d="M179.2,40.9L179.5,40.5"/>
<path d="M179.5,40.5L179.8,41.2"/>
<path d="M179.8,41.2L180.0,39.9"/>
<path d="M180.0,39.9L180.3,40.6"/>
<path d="M180.3,40.6L180.5,40.9"/>
<path d="M180.5,40.9L180.8,41.3"/>
<path d="M180.8,41.3L181.1,40.4"/>
<path d="M181.1,40.4L181.3,40.1"/>
<path d="M181.3,40.1L181.6,41.3"/>
<path d="M181.6,41.3L181.8,40.0"/>
<path d="M181.8,40.0L182.1,39.6"/>
<path d="M182.1,39.6L182.3,40.6"/>
<path d="M182.3,40.6L182.6,40.8"/>
<path d="M182.6,40.8L182.9,39.7"/>
<path d="M182.9,39.7L183.1,40.4"/>
<path d="M183.1,40.4L183.4,41.5"/>
<path d="M183.4,41.5L183.6,41.2"/>
<path d="M183.6,41.2L183.9,41.3"/>
<path d="M183.9,41.3L184.1,41.3"/>
<path d="M184.1,41.3L184.4,42.3"/>
<path d="M184.4,42.3L184.7,40.8"/>
<path d="M184.7,40.8L184.9,41.5"/>
<path d="M184.9,41.5L185.2,41.2"/>
<path d="M185.2,41.2L185.4,41.2"/>
<path d="M185.4,41.2L185.7,40.9"/>
<path d="M185.7,40.9L185.9,41.5"/>
</g>
<rect x="23.5" y="9.3" width="180.50" height="221.70" fill="none" stroke="#cbcbcb" stroke-width="1.2"/>
<text x="23.90" y="241.8" font-size="8.4" text-anchor="middle" fill="#1e1e1e">0</text>
<text x="49.69" y="241.8" font-size="8.4" text-anchor="middle" fill="#1e1e1e">100</text>
<text x="75.47" y="241.8" font-size="8.4" text-anchor="middle" fill="#1e1e1e">200</text>
<text x="101.26" y="241.8" font-size="8.4" text-anchor="middle" fill="#1e1e1e">300</text>
<text x="127.04" y="241.8" font-size="8.4" text-anchor="middle" fill="#1e1e1e">400</text>
<text x="152.83" y="241.8" font-size="8.4" text-anchor="middle" fill="#1e1e1e">500</text>
<text x="178.61" y="241.8" font-size="8.4" text-anchor="middle" fill="#1e1e1e">600</text>
<text x="204.40" y="241.8" font-size="8.4" text-anchor="middle" fill="#1e1e1e">700</text>
<text x="21.5" y="234.20" font-size="8.4" text-anchor="end" fill="#1e1e1e">30</text>
<text x="21.5" y="202.53" font-size="8.4" text-anchor="end" fill="#1e1e1e">32</text>
<text x="21.5" y="170.86" font-size="8.4" text-anchor="end" fill="#1e1e1e">34</text>
<text x="21.5" y="139.19" font-size="8.4" text-anchor="end" fill="#1e1e1e">36</text>
<text x="21.5" y="107.51" font-size="8.4" text-anchor="end" fill="#1e1e1e">38</text>
<text x="21.5" y="75.84" font-size="8.4" text-anchor="end" fill="#1e1e1e">40</text>
<text x="21.5" y="44.17" font-size="8.4" text-anchor="end" fill="#1e1e1e">42</text>
<text x="21.5" y="12.50" font-size="8.4" text-anchor="end" fill="#1e1e1e">44</text>
<rect x="152.6" y="208.3" width="43.3" height="18.3" fill="#fff" stroke="#cbcbcb" stroke-width="0.8"/>
<line x1="153.8" y1="213.3" x2="164.8" y2="213.3" stroke="#157DC6" stroke-width="1.5"/>
<line x1="153.8" y1="221.6" x2="164.8" y2="221.6" stroke="#F7A07A" stroke-width="1.6"/>
<text x="165.3" y="216" font-size="7.5" fill="#1e1e1e">BB</text>
<text x="165.3" y="224.4" font-size="7.5" fill="#1e1e1e">Measured</text>
<text x="114" y="252" font-size="9" text-anchor="middle" fill="#1e1e1e">Measurement Number</text>
<text transform="translate(10.6,120.7) rotate(-90)" font-size="9" text-anchor="middle" fill="#1e1e1e">Temperature [°C]</text>
<text x="101.7" y="268" font-size="11" font-weight="bold" text-anchor="middle" fill="#111">(a)</text>
<line x1="266.55" y1="9.2" x2="266.55" y2="231.0" stroke="#fbfbfb" stroke-width="1"/>
<line x1="271.69" y1="9.2" x2="271.69" y2="231.0" stroke="#fbfbfb" stroke-width="1"/>
<line x1="276.84" y1="9.2" x2="276.84" y2="231.0" stroke="#fbfbfb" stroke-width="1"/>
<line x1="281.98" y1="9.2" x2="281.98" y2="231.0" stroke="#fbfbfb" stroke-width="1"/>
<line x1="292.27" y1="9.2" x2="292.27" y2="231.0" stroke="#fbfbfb" stroke-width="1"/>
<line x1="297.42" y1="9.2" x2="297.42" y2="231.0" stroke="#fbfbfb" stroke-width="1"/>
<line x1="302.57" y1="9.2" x2="302.57" y2="231.0" stroke="#fbfbfb" stroke-width="1"/>
<line x1="307.71" y1="9.2" x2="307.71" y2="231.0" stroke="#fbfbfb" stroke-width="1"/>
<line x1="318.00" y1="9.2" x2="318.00" y2="231.0" stroke="#fbfbfb" stroke-width="1"/>
<line x1="323.15" y1="9.2" x2="323.15" y2="231.0" stroke="#fbfbfb" stroke-width="1"/>
<line x1="328.29" y1="9.2" x2="328.29" y2="231.0" stroke="#fbfbfb" stroke-width="1"/>
<line x1="333.44" y1="9.2" x2="333.44" y2="231.0" stroke="#fbfbfb" stroke-width="1"/>
<line x1="343.73" y1="9.2" x2="343.73" y2="231.0" stroke="#fbfbfb" stroke-width="1"/>
<line x1="348.88" y1="9.2" x2="348.88" y2="231.0" stroke="#fbfbfb" stroke-width="1"/>
<line x1="354.02" y1="9.2" x2="354.02" y2="231.0" stroke="#fbfbfb" stroke-width="1"/>
<line x1="359.17" y1="9.2" x2="359.17" y2="231.0" stroke="#fbfbfb" stroke-width="1"/>
<line x1="369.46" y1="9.2" x2="369.46" y2="231.0" stroke="#fbfbfb" stroke-width="1"/>
<line x1="374.61" y1="9.2" x2="374.61" y2="231.0" stroke="#fbfbfb" stroke-width="1"/>
<line x1="379.75" y1="9.2" x2="379.75" y2="231.0" stroke="#fbfbfb" stroke-width="1"/>
<line x1="384.90" y1="9.2" x2="384.90" y2="231.0" stroke="#fbfbfb" stroke-width="1"/>
<line x1="395.19" y1="9.2" x2="395.19" y2="231.0" stroke="#fbfbfb" stroke-width="1"/>
<line x1="400.33" y1="9.2" x2="400.33" y2="231.0" stroke="#fbfbfb" stroke-width="1"/>
<line x1="405.48" y1="9.2" x2="405.48" y2="231.0" stroke="#fbfbfb" stroke-width="1"/>
<line x1="410.63" y1="9.2" x2="410.63" y2="231.0" stroke="#fbfbfb" stroke-width="1"/>
<line x1="420.92" y1="9.2" x2="420.92" y2="231.0" stroke="#fbfbfb" stroke-width="1"/>
<line x1="426.06" y1="9.2" x2="426.06" y2="231.0" stroke="#fbfbfb" stroke-width="1"/>
<line x1="431.21" y1="9.2" x2="431.21" y2="231.0" stroke="#fbfbfb" stroke-width="1"/>
<line x1="436.35" y1="9.2" x2="436.35" y2="231.0" stroke="#fbfbfb" stroke-width="1"/>
<line x1="261.4" y1="223.61" x2="441.5" y2="223.61" stroke="#fbfbfb" stroke-width="1"/>
<line x1="261.4" y1="216.21" x2="441.5" y2="216.21" stroke="#fbfbfb" stroke-width="1"/>
<line x1="261.4" y1="208.82" x2="441.5" y2="208.82" stroke="#fbfbfb" stroke-width="1"/>
<line x1="261.4" y1="201.43" x2="441.5" y2="201.43" stroke="#fbfbfb" stroke-width="1"/>
<line x1="261.4" y1="186.64" x2="441.5" y2="186.64" stroke="#fbfbfb" stroke-width="1"/>
<line x1="261.4" y1="179.25" x2="441.5" y2="179.25" stroke="#fbfbfb" stroke-width="1"/>
<line x1="261.4" y1="171.85" x2="441.5" y2="171.85" stroke="#fbfbfb" stroke-width="1"/>
<line x1="261.4" y1="164.46" x2="441.5" y2="164.46" stroke="#fbfbfb" stroke-width="1"/>
<line x1="261.4" y1="149.67" x2="441.5" y2="149.67" stroke="#fbfbfb" stroke-width="1"/>
<line x1="261.4" y1="142.28" x2="441.5" y2="142.28" stroke="#fbfbfb" stroke-width="1"/>
<line x1="261.4" y1="134.89" x2="441.5" y2="134.89" stroke="#fbfbfb" stroke-width="1"/>
<line x1="261.4" y1="127.49" x2="441.5" y2="127.49" stroke="#fbfbfb" stroke-width="1"/>
<line x1="261.4" y1="112.71" x2="441.5" y2="112.71" stroke="#fbfbfb" stroke-width="1"/>
<line x1="261.4" y1="105.31" x2="441.5" y2="105.31" stroke="#fbfbfb" stroke-width="1"/>
<line x1="261.4" y1="97.92" x2="441.5" y2="97.92" stroke="#fbfbfb" stroke-width="1"/>
<line x1="261.4" y1="90.53" x2="441.5" y2="90.53" stroke="#fbfbfb" stroke-width="1"/>
<line x1="261.4" y1="75.74" x2="441.5" y2="75.74" stroke="#fbfbfb" stroke-width="1"/>
<line x1="261.4" y1="68.35" x2="441.5" y2="68.35" stroke="#fbfbfb" stroke-width="1"/>
<line x1="261.4" y1="60.95" x2="441.5" y2="60.95" stroke="#fbfbfb" stroke-width="1"/>
<line x1="261.4" y1="53.56" x2="441.5" y2="53.56" stroke="#fbfbfb" stroke-width="1"/>
<line x1="261.4" y1="38.77" x2="441.5" y2="38.77" stroke="#fbfbfb" stroke-width="1"/>
<line x1="261.4" y1="31.38" x2="441.5" y2="31.38" stroke="#fbfbfb" stroke-width="1"/>
<line x1="261.4" y1="23.99" x2="441.5" y2="23.99" stroke="#fbfbfb" stroke-width="1"/>
<line x1="261.4" y1="16.59" x2="441.5" y2="16.59" stroke="#fbfbfb" stroke-width="1"/>
<line x1="261.40" y1="9.2" x2="261.40" y2="231.0" stroke="#f4f4f4" stroke-width="1"/>
<line x1="287.13" y1="9.2" x2="287.13" y2="231.0" stroke="#f4f4f4" stroke-width="1"/>
<line x1="312.86" y1="9.2" x2="312.86" y2="231.0" stroke="#f4f4f4" stroke-width="1"/>
<line x1="338.59" y1="9.2" x2="338.59" y2="231.0" stroke="#f4f4f4" stroke-width="1"/>
<line x1="364.31" y1="9.2" x2="364.31" y2="231.0" stroke="#f4f4f4" stroke-width="1"/>
<line x1="390.04" y1="9.2" x2="390.04" y2="231.0" stroke="#f4f4f4" stroke-width="1"/>
<line x1="415.77" y1="9.2" x2="415.77" y2="231.0" stroke="#f4f4f4" stroke-width="1"/>
<line x1="441.50" y1="9.2" x2="441.50" y2="231.0" stroke="#f4f4f4" stroke-width="1"/>
<line x1="261.4" y1="231.00" x2="441.5" y2="231.00" stroke="#f4f4f4" stroke-width="1"/>
<line x1="261.4" y1="194.03" x2="441.5" y2="194.03" stroke="#f4f4f4" stroke-width="1"/>
<line x1="261.4" y1="157.07" x2="441.5" y2="157.07" stroke="#f4f4f4" stroke-width="1"/>
<line x1="261.4" y1="120.10" x2="441.5" y2="120.10" stroke="#f4f4f4" stroke-width="1"/>
<line x1="261.4" y1="83.13" x2="441.5" y2="83.13" stroke="#f4f4f4" stroke-width="1"/>
<line x1="261.4" y1="46.17" x2="441.5" y2="46.17" stroke="#f4f4f4" stroke-width="1"/>
<line x1="261.4" y1="9.20" x2="441.5" y2="9.20" stroke="#f4f4f4" stroke-width="1"/>
<line x1="261.40" y1="231.0" x2="261.40" y2="228.5" stroke="#cbcbcb" stroke-width="1"/>
<line x1="261.40" y1="9.2" x2="261.40" y2="11.7" stroke="#cbcbcb" stroke-width="1"/>
<line x1="287.13" y1="231.0" x2="287.13" y2="228.5" stroke="#cbcbcb" stroke-width="1"/>
<line x1="287.13" y1="9.2" x2="287.13" y2="11.7" stroke="#cbcbcb" stroke-width="1"/>
<line x1="312.86" y1="231.0" x2="312.86" y2="228.5" stroke="#cbcbcb" stroke-width="1"/>
<line x1="312.86" y1="9.2" x2="312.86" y2="11.7" stroke="#cbcbcb" stroke-width="1"/>
<line x1="338.59" y1="231.0" x2="338.59" y2="228.5" stroke="#cbcbcb" stroke-width="1"/>
<line x1="338.59" y1="9.2" x2="338.59" y2="11.7" stroke="#cbcbcb" stroke-width="1"/>
<line x1="364.31" y1="231.0" x2="364.31" y2="228.5" stroke="#cbcbcb" stroke-width="1"/>
<line x1="364.31" y1="9.2" x2="364.31" y2="11.7" stroke="#cbcbcb" stroke-width="1"/>
<line x1="390.04" y1="231.0" x2="390.04" y2="228.5" stroke="#cbcbcb" stroke-width="1"/>
<line x1="390.04" y1="9.2" x2="390.04" y2="11.7" stroke="#cbcbcb" stroke-width="1"/>
<line x1="415.77" y1="231.0" x2="415.77" y2="228.5" stroke="#cbcbcb" stroke-width="1"/>
<line x1="415.77" y1="9.2" x2="415.77" y2="11.7" stroke="#cbcbcb" stroke-width="1"/>
<line x1="441.50" y1="231.0" x2="441.50" y2="228.5" stroke="#cbcbcb" stroke-width="1"/>
<line x1="441.50" y1="9.2" x2="441.50" y2="11.7" stroke="#cbcbcb" stroke-width="1"/>
<line x1="261.4" y1="231.00" x2="263.9" y2="231.00" stroke="#cbcbcb" stroke-width="1"/>
<line x1="441.5" y1="231.00" x2="439.0" y2="231.00" stroke="#cbcbcb" stroke-width="1"/>
<line x1="261.4" y1="194.03" x2="263.9" y2="194.03" stroke="#cbcbcb" stroke-width="1"/>
<line x1="441.5" y1="194.03" x2="439.0" y2="194.03" stroke="#cbcbcb" stroke-width="1"/>
<line x1="261.4" y1="157.07" x2="263.9" y2="157.07" stroke="#cbcbcb" stroke-width="1"/>
<line x1="441.5" y1="157.07" x2="439.0" y2="157.07" stroke="#cbcbcb" stroke-width="1"/>
<line x1="261.4" y1="120.10" x2="263.9" y2="120.10" stroke="#cbcbcb" stroke-width="1"/>
<line x1="441.5" y1="120.10" x2="439.0" y2="120.10" stroke="#cbcbcb" stroke-width="1"/>
<line x1="261.4" y1="83.13" x2="263.9" y2="83.13" stroke="#cbcbcb" stroke-width="1"/>
<line x1="441.5" y1="83.13" x2="439.0" y2="83.13" stroke="#cbcbcb" stroke-width="1"/>
<line x1="261.4" y1="46.17" x2="263.9" y2="46.17" stroke="#cbcbcb" stroke-width="1"/>
<line x1="441.5" y1="46.17" x2="439.0" y2="46.17" stroke="#cbcbcb" stroke-width="1"/>
<line x1="261.4" y1="9.20" x2="263.9" y2="9.20" stroke="#cbcbcb" stroke-width="1"/>
<line x1="441.5" y1="9.20" x2="439.0" y2="9.20" stroke="#cbcbcb" stroke-width="1"/>
<g stroke="#EE5A26" stroke-width="0.65" stroke-opacity="0.5" stroke-linecap="round" fill="none">
<path d="M261.7,99.4L261.9,94.9"/>
<path d="M261.9,94.9L262.2,101.8"/>
<path d="M262.2,101.8L262.4,88.4"/>
<path d="M262.4,88.4L262.7,101.8"/>
<path d="M262.7,101.8L262.9,98.6"/>
<path d="M262.9,98.6L263.2,94.0"/>
<path d="M263.2,94.0L263.5,82.7"/>
<path d="M263.5,82.7L263.7,75.9"/>
<path d="M263.7,75.9L264.0,74.6"/>
<path d="M264.0,74.6L264.2,101.4"/>
<path d="M264.2,101.4L264.5,94.5"/>
<path d="M264.5,94.5L264.7,94.9"/>
<path d="M264.7,94.9L265.0,68.6"/>
<path d="M265.0,68.6L265.3,108.4"/>
<path d="M265.3,108.4L265.5,73.6"/>
<path d="M265.5,73.6L265.8,97.5"/>
<path d="M265.8,97.5L266.0,97.8"/>
<path d="M266.0,97.8L266.3,106.5"/>
<path d="M266.3,106.5L266.5,102.9"/>
<path d="M266.5,102.9L266.8,89.3"/>
<path d="M266.8,89.3L267.1,91.3"/>
<path d="M267.1,91.3L267.3,97.7"/>
<path d="M267.3,97.7L267.6,88.2"/>
<path d="M267.6,88.2L267.8,90.7"/>
<path d="M267.8,90.7L268.1,110.9"/>
<path d="M268.1,110.9L268.3,96.9"/>
<path d="M268.3,96.9L268.6,110.7"/>
<path d="M268.6,110.7L268.9,110.9"/>
<path d="M268.9,110.9L269.1,82.0"/>
<path d="M269.1,82.0L269.4,112.0"/>
<path d="M269.4,112.0L269.6,98.8"/>
<path d="M269.6,98.8L269.9,88.5"/>
<path d="M269.9,88.5L270.1,93.2"/>
<path d="M270.1,93.2L270.4,99.7"/>
<path d="M270.4,99.7L270.7,81.7"/>
<path d="M270.7,81.7L270.9,94.5"/>
<path d="M270.9,94.5L271.2,101.9"/>
<path d="M271.2,101.9L271.4,90.8"/>
<path d="M271.4,90.8L271.7,122.0"/>
<path d="M271.7,122.0L271.9,109.6"/>
<path d="M271.9,109.6L272.2,97.6"/>
<path d="M272.2,97.6L272.5,102.3"/>
<path d="M272.5,102.3L272.7,112.1"/>
<path d="M272.7,112.1L273.0,115.3"/>
<path d="M273.0,115.3L273.2,108.9"/>
<path d="M273.2,108.9L273.5,118.2"/>
<path d="M273.5,118.2L273.7,94.6"/>
<path d="M273.7,94.6L274.0,99.0"/>
<path d="M274.0,99.0L274.3,97.5"/>
<path d="M274.3,97.5L274.5,109.7"/>
<path d="M274.5,109.7L274.8,97.6"/>
<path d="M274.8,97.6L275.0,114.4"/>
<path d="M275.0,114.4L275.3,100.1"/>
<path d="M275.3,100.1L275.6,115.2"/>
<path d="M275.6,115.2L275.8,113.5"/>
<path d="M275.8,113.5L276.1,127.1"/>
<path d="M276.1,127.1L276.3,106.6"/>
<path d="M276.3,106.6L276.6,114.6"/>
<path d="M276.6,114.6L276.8,132.0"/>
<path d="M276.8,132.0L277.1,115.0"/>
<path d="M277.1,115.0L277.4,98.8"/>
<path d="M277.4,98.8L277.6,100.3"/>
<path d="M277.6,100.3L277.9,111.2"/>
<path d="M277.9,111.2L278.1,100.1"/>
<path d="M278.1,100.1L278.4,92.9"/>
<path d="M278.4,92.9L278.6,125.1"/>
<path d="M278.6,125.1L278.9,82.5"/>
<path d="M278.9,82.5L279.2,114.7"/>
<path d="M279.2,114.7L279.4,117.6"/>
<path d="M279.4,117.6L279.7,105.7"/>
<path d="M279.7,105.7L279.9,104.4"/>
<path d="M279.9,104.4L280.2,104.3"/>
<path d="M280.2,104.3L280.4,130.2"/>
<path d="M280.4,130.2L280.7,114.6"/>
<path d="M280.7,114.6L281.0,99.9"/>
<path d="M281.0,99.9L281.2,111.1"/>
<path d="M281.2,111.1L281.5,118.6"/>
<path d="M281.5,118.6L281.7,129.4"/>
<path d="M281.7,129.4L282.0,110.7"/>
<path d="M282.0,110.7L282.2,127.9"/>
<path d="M282.2,127.9L282.5,115.5"/>
<path d="M282.5,115.5L282.8,130.7"/>
<path d="M282.8,130.7L283.0,157.6"/>
<path d="M283.0,157.6L283.3,143.8"/>
<path d="M283.3,143.8L283.5,131.2"/>
<path d="M283.5,131.2L283.8,147.5"/>
<path d="M283.8,147.5L284.0,149.9"/>
<path d="M284.0,149.9L284.3,161.0"/>
<path d="M284.3,161.0L284.6,136.7"/>
<path d="M284.6,136.7L284.8,144.1"/>
<path d="M284.8,144.1L285.1,126.6"/>
<path d="M285.1,126.6L285.3,141.3"/>
<path d="M285.3,141.3L285.6,139.5"/>
<path d="M285.6,139.5L285.8,154.0"/>
<path d="M285.8,154.0L286.1,150.1"/>
<path d="M286.1,150.1L286.4,158.5"/>
<path d="M286.4,158.5L286.6,146.2"/>
<path d="M286.6,146.2L286.9,133.4"/>
<path d="M286.9,133.4L287.1,162.8"/>
<path d="M287.1,162.8L287.4,167.6"/>
<path d="M287.4,167.6L287.6,128.0"/>
<path d="M287.6,128.0L287.9,125.9"/>
<path d="M287.9,125.9L288.2,146.4"/>
<path d="M288.2,146.4L288.4,147.2"/>
<path d="M288.4,147.2L288.7,130.0"/>
<path d="M288.7,130.0L288.9,167.3"/>
<path d="M288.9,167.3L289.2,139.9"/>
<path d="M289.2,139.9L289.4,142.5"/>
<path d="M289.4,142.5L289.7,165.4"/>
<path d="M289.7,165.4L290.0,137.2"/>
<path d="M290.0,137.2L290.2,138.2"/>
<path d="M290.2,138.2L290.5,150.9"/>
<path d="M290.5,150.9L290.7,142.5"/>
<path d="M290.7,142.5L291.0,135.6"/>
<path d="M291.0,135.6L291.2,137.4"/>
<path d="M291.2,137.4L291.5,131.1"/>
<path d="M291.5,131.1L291.8,151.2"/>
<path d="M291.8,151.2L292.0,110.6"/>
<path d="M292.0,110.6L292.3,151.9"/>
<path d="M292.3,151.9L292.5,110.1"/>
<path d="M292.5,110.1L292.8,137.9"/>
<path d="M292.8,137.9L293.0,142.8"/>
<path d="M293.0,142.8L293.3,131.5"/>
<path d="M293.3,131.5L293.6,135.5"/>
<path d="M293.6,135.5L293.8,146.1"/>
<path d="M293.8,146.1L294.1,131.3"/>
<path d="M294.1,131.3L294.3,149.0"/>
<path d="M294.3,149.0L294.6,125.9"/>
<path d="M294.6,125.9L294.8,149.8"/>
<path d="M294.8,149.8L295.1,134.7"/>
<path d="M295.1,134.7L295.4,142.6"/>
<path d="M295.4,142.6L295.6,128.4"/>
<path d="M295.6,128.4L295.9,138.6"/>
<path d="M295.9,138.6L296.1,124.7"/>
<path d="M296.1,124.7L296.4,121.7"/>
<path d="M296.4,121.7L296.6,143.6"/>
<path d="M296.6,143.6L296.9,148.0"/>
<path d="M296.9,148.0L297.2,140.8"/>
<path d="M297.2,140.8L297.4,128.5"/>
<path d="M297.4,128.5L297.7,110.0"/>
<path d="M297.7,110.0L297.9,134.1"/>
<path d="M297.9,134.1L298.2,131.8"/>
<path d="M298.2,131.8L298.4,135.7"/>
<path d="M298.4,135.7L298.7,156.8"/>
<path d="M298.7,156.8L299.0,124.6"/>
<path d="M299.0,124.6L299.2,137.1"/>
<path d="M299.2,137.1L299.5,104.5"/>
<path d="M299.5,104.5L299.7,100.2"/>
<path d="M299.7,100.2L300.0,137.0"/>
<path d="M300.0,137.0L300.3,116.3"/>
<path d="M300.3,116.3L300.5,120.1"/>
<path d="M300.5,120.1L300.8,125.2"/>
<path d="M300.8,125.2L301.0,94.3"/>
<path d="M301.0,94.3L301.3,143.2"/>
<path d="M301.3,143.2L301.5,108.3"/>
<path d="M301.5,108.3L301.8,68.6"/>
<path d="M301.8,68.6L302.1,128.3"/>
<path d="M302.1,128.3L302.3,127.3"/>
<path d="M302.3,127.3L302.6,128.0"/>
<path d="M302.6,128.0L302.8,130.1"/>
<path d="M302.8,130.1L303.1,99.8"/>
<path d="M303.1,99.8L303.3,100.6"/>
<path d="M303.3,100.6L303.6,124.2"/>
<path d="M303.6,124.2L303.9,102.9"/>
<path d="M303.9,102.9L304.1,111.8"/>
<path d="M304.1,111.8L304.4,118.0"/>
<path d="M304.4,118.0L304.6,111.9"/>
<path d="M304.6,111.9L304.9,101.8"/>
<path d="M304.9,101.8L305.1,102.9"/>
<path d="M305.1,102.9L305.4,109.4"/>
<path d="M305.4,109.4L305.7,107.6"/>
<path d="M305.7,107.6L305.9,119.7"/>
<path d="M305.9,119.7L306.2,101.6"/>
<path d="M306.2,101.6L306.4,113.1"/>
<path d="M306.4,113.1L306.7,123.2"/>
<path d="M306.7,123.2L306.9,103.8"/>
<path d="M306.9,103.8L307.2,111.8"/>
<path d="M307.2,111.8L307.5,97.7"/>
<path d="M307.5,97.7L307.7,114.9"/>
<path d="M307.7,114.9L308.0,128.2"/>
<path d="M308.0,128.2L308.2,113.4"/>
<path d="M308.2,113.4L308.5,118.9"/>
<path d="M308.5,118.9L308.7,112.0"/>
<path d="M308.7,112.0L309.0,108.2"/>
<path d="M309.0,108.2L309.3,107.2"/>
<path d="M309.3,107.2L309.5,117.8"/>
<path d="M309.5,117.8L309.8,123.4"/>
<path d="M309.8,123.4L310.0,115.2"/>
<path d="M310.0,115.2L310.3,94.6"/>
<path d="M310.3,94.6L310.5,102.4"/>
<path d="M310.5,102.4L310.8,111.8"/>
<path d="M310.8,111.8L311.1,99.5"/>
<path d="M311.1,99.5L311.3,125.8"/>
<path d="M311.3,125.8L311.6,117.3"/>
<path d="M311.6,117.3L311.8,134.8"/>
<path d="M311.8,134.8L312.1,96.9"/>
<path d="M312.1,96.9L312.3,91.0"/>
<path d="M312.3,91.0L312.6,107.8"/>
<path d="M312.6,107.8L312.9,110.0"/>
<path d="M312.9,110.0L313.1,101.3"/>
<path d="M313.1,101.3L313.4,102.7"/>
<path d="M313.4,102.7L313.6,106.3"/>
<path d="M313.6,106.3L313.9,111.8"/>
<path d="M313.9,111.8L314.1,115.4"/>
<path d="M314.1,115.4L314.4,129.5"/>
<path d="M314.4,129.5L314.7,130.2"/>
<path d="M314.7,130.2L314.9,100.3"/>
<path d="M314.9,100.3L315.2,135.1"/>
<path d="M315.2,135.1L315.4,111.5"/>
<path d="M315.4,111.5L315.7,112.6"/>
<path d="M315.7,112.6L315.9,119.1"/>
<path d="M315.9,119.1L316.2,109.4"/>
<path d="M316.2,109.4L316.5,105.6"/>
<path d="M316.5,105.6L316.7,135.1"/>
<path d="M316.7,135.1L317.0,137.6"/>
<path d="M317.0,137.6L317.2,102.6"/>
<path d="M317.2,102.6L317.5,122.4"/>
<path d="M317.5,122.4L317.7,76.0"/>
<path d="M317.7,76.0L318.0,111.1"/>
<path d="M318.0,111.1L318.3,134.8"/>
<path d="M318.3,134.8L318.5,115.7"/>
<path d="M318.5,115.7L318.8,146.4"/>
<path d="M318.8,146.4L319.0,132.5"/>
<path d="M319.0,132.5L319.3,139.8"/>
<path d="M319.3,139.8L319.5,130.4"/>
<path d="M319.5,130.4L319.8,164.1"/>
<path d="M319.8,164.1L320.1,149.8"/>
<path d="M320.1,149.8L320.3,124.3"/>
<path d="M320.3,124.3L320.6,134.0"/>
<path d="M320.6,134.0L320.8,138.9"/>
<path d="M320.8,138.9L321.1,146.4"/>
<path d="M321.1,146.4L321.3,137.8"/>
<path d="M321.3,137.8L321.6,135.4"/>
<path d="M321.6,135.4L321.9,124.1"/>
<path d="M321.9,124.1L322.1,130.5"/>
<path d="M322.1,130.5L322.4,123.9"/>
<path d="M322.4,123.9L322.6,158.2"/>
<path d="M322.6,158.2L322.9,165.3"/>
<path d="M322.9,165.3L323.1,156.8"/>
<path d="M323.1,156.8L323.4,142.3"/>
<path d="M323.4,142.3L323.7,137.7"/>
<path d="M323.7,137.7L323.9,126.7"/>
<path d="M323.9,126.7L324.2,128.0"/>
<path d="M324.2,128.0L324.4,164.9"/>
<path d="M324.4,164.9L324.7,134.9"/>
<path d="M324.7,134.9L324.9,120.6"/>
<path d="M324.9,120.6L325.2,130.5"/>
<path d="M325.2,130.5L325.5,146.5"/>
<path d="M325.5,146.5L325.7,121.3"/>
<path d="M325.7,121.3L326.0,138.7"/>
<path d="M326.0,138.7L326.2,133.5"/>
<path d="M326.2,133.5L326.5,165.3"/>
<path d="M326.5,165.3L326.8,154.9"/>
<path d="M326.8,154.9L327.0,122.1"/>
<path d="M327.0,122.1L327.3,160.2"/>
<path d="M327.3,160.2L327.5,116.4"/>
<path d="M327.5,116.4L327.8,137.0"/>
<path d="M327.8,137.0L328.0,108.7"/>
<path d="M328.0,108.7L328.3,111.2"/>
<path d="M328.3,111.2L328.6,116.2"/>
<path d="M328.6,116.2L328.8,118.4"/>
<path d="M328.8,118.4L329.1,161.9"/>
<path d="M329.1,161.9L329.3,126.5"/>
<path d="M329.3,126.5L329.6,125.3"/>
<path d="M329.6,125.3L329.8,114.5"/>
<path d="M329.8,114.5L330.1,156.4"/>
<path d="M330.1,156.4L330.4,135.4"/>
<path d="M330.4,135.4L330.6,143.4"/>
<path d="M330.6,143.4L330.9,125.7"/>
<path d="M330.9,125.7L331.1,146.3"/>
<path d="M331.1,146.3L331.4,147.0"/>
<path d="M331.4,147.0L331.6,108.7"/>
<path d="M331.6,108.7L331.9,163.9"/>
<path d="M331.9,163.9L332.2,147.9"/>
<path d="M332.2,147.9L332.4,129.8"/>
<path d="M332.4,129.8L332.7,175.0"/>
<path d="M332.7,175.0L332.9,148.5"/>
<path d="M332.9,148.5L333.2,140.8"/>
<path d="M333.2,140.8L333.4,146.0"/>
<path d="M333.4,146.0L333.7,139.8"/>
<path d="M333.7,139.8L334.0,141.0"/>
<path d="M334.0,141.0L334.2,124.3"/>
<path d="M334.2,124.3L334.5,111.3"/>
<path d="M334.5,111.3L334.7,122.7"/>
<path d="M334.7,122.7L335.0,163.2"/>
<path d="M335.0,163.2L335.2,142.5"/>
<path d="M335.2,142.5L335.5,140.4"/>
<path d="M335.5,140.4L335.8,157.3"/>
<path d="M335.8,157.3L336.0,135.9"/>
<path d="M336.0,135.9L336.3,165.3"/>
<path d="M336.3,165.3L336.5,140.4"/>
<path d="M336.5,140.4L336.8,141.7"/>
<path d="M336.8,141.7L337.0,137.5"/>
<path d="M337.0,137.5L337.3,113.9"/>
<path d="M337.3,113.9L337.6,154.0"/>
<path d="M337.6,154.0L337.8,164.8"/>
<path d="M337.8,164.8L338.1,130.6"/>
<path d="M338.1,130.6L338.3,165.3"/>
<path d="M338.3,165.3L338.6,154.8"/>
<path d="M338.6,154.8L338.8,165.3"/>
<path d="M338.8,165.3L339.1,140.6"/>
<path d="M339.1,140.6L339.4,135.8"/>
<path d="M339.4,135.8L339.6,126.6"/>
<path d="M339.6,126.6L339.9,160.2"/>
<path d="M339.9,160.2L340.1,125.7"/>
<path d="M340.1,125.7L340.4,108.7"/>
<path d="M340.4,108.7L340.6,152.5"/>
<path d="M340.6,152.5L340.9,124.0"/>
<path d="M340.9,124.0L341.2,128.1"/>
<path d="M341.2,128.1L341.4,151.8"/>
<path d="M341.4,151.8L341.7,118.7"/>
<path d="M341.7,118.7L341.9,110.8"/>
<path d="M341.9,110.8L342.2,104.1"/>
<path d="M342.2,104.1L342.4,51.6"/>
<path d="M342.4,51.6L342.7,114.5"/>
<path d="M342.7,114.5L343.0,99.4"/>
<path d="M343.0,99.4L343.2,109.5"/>
<path d="M343.2,109.5L343.5,103.8"/>
<path d="M343.5,103.8L343.7,118.1"/>
<path d="M343.7,118.1L344.0,88.2"/>
<path d="M344.0,88.2L344.2,111.1"/>
<path d="M344.2,111.1L344.5,77.5"/>
<path d="M344.5,77.5L344.8,124.3"/>
<path d="M344.8,124.3L345.0,112.7"/>
<path d="M345.0,112.7L345.3,78.5"/>
<path d="M345.3,78.5L345.5,103.3"/>
<path d="M345.5,103.3L345.8,68.9"/>
<path d="M345.8,68.9L346.0,102.1"/>
<path d="M346.0,102.1L346.3,69.4"/>
<path d="M346.3,69.4L346.6,89.6"/>
<path d="M346.6,89.6L346.8,75.3"/>
<path d="M346.8,75.3L347.1,98.3"/>
<path d="M347.1,98.3L347.3,93.9"/>
<path d="M347.3,93.9L347.6,93.3"/>
<path d="M347.6,93.3L347.8,95.7"/>
<path d="M347.8,95.7L348.1,77.7"/>
<path d="M348.1,77.7L348.4,71.3"/>
<path d="M348.4,71.3L348.6,71.5"/>
<path d="M348.6,71.5L348.9,99.5"/>
<path d="M348.9,99.5L349.1,124.0"/>
<path d="M349.1,124.0L349.4,100.3"/>
<path d="M349.4,100.3L349.6,114.0"/>
<path d="M349.6,114.0L349.9,109.6"/>
<path d="M349.9,109.6L350.2,89.1"/>
<path d="M350.2,89.1L350.4,95.0"/>
<path d="M350.4,95.0L350.7,80.1"/>
<path d="M350.7,80.1L350.9,98.5"/>
<path d="M350.9,98.5L351.2,104.4"/>
<path d="M351.2,104.4L351.4,89.4"/>
<path d="M351.4,89.4L351.7,74.1"/>
<path d="M351.7,74.1L352.0,109.1"/>
<path d="M352.0,109.1L352.2,99.5"/>
<path d="M352.2,99.5L352.5,83.1"/>
<path d="M352.5,83.1L352.7,93.2"/>
<path d="M352.7,93.2L353.0,102.1"/>
<path d="M353.0,102.1L353.3,99.9"/>
<path d="M353.3,99.9L353.5,90.4"/>
<path d="M353.5,90.4L353.8,85.6"/>
<path d="M353.8,85.6L354.0,100.2"/>
<path d="M354.0,100.2L354.3,99.2"/>
<path d="M354.3,99.2L354.5,92.7"/>
<path d="M354.5,92.7L354.8,93.8"/>
<path d="M354.8,93.8L355.1,113.9"/>
<path d="M355.1,113.9L355.3,90.6"/>
<path d="M355.3,90.6L355.6,105.3"/>
<path d="M355.6,105.3L355.8,113.8"/>
<path d="M355.8,113.8L356.1,101.1"/>
<path d="M356.1,101.1L356.3,96.3"/>
<path d="M356.3,96.3L356.6,111.3"/>
<path d="M356.6,111.3L356.9,141.0"/>
<path d="M356.9,141.0L357.1,110.8"/>
<path d="M357.1,110.8L357.4,115.6"/>
<path d="M357.4,115.6L357.6,102.2"/>
<path d="M357.6,102.2L357.9,122.8"/>
<path d="M357.9,122.8L358.1,111.1"/>
<path d="M358.1,111.1L358.4,116.9"/>
<path d="M358.4,116.9L358.7,123.1"/>
<path d="M358.7,123.1L358.9,120.1"/>
<path d="M358.9,120.1L359.2,118.3"/>
<path d="M359.2,118.3L359.4,112.2"/>
<path d="M359.4,112.2L359.7,110.0"/>
<path d="M359.7,110.0L359.9,108.5"/>
<path d="M359.9,108.5L360.2,118.4"/>
<path d="M360.2,118.4L360.5,114.0"/>
<path d="M360.5,114.0L360.7,128.1"/>
<path d="M360.7,128.1L361.0,115.7"/>
<path d="M361.0,115.7L361.2,124.1"/>
<path d="M361.2,124.1L361.5,106.3"/>
<path d="M361.5,106.3L361.7,108.6"/>
<path d="M361.7,108.6L362.0,132.3"/>
<path d="M362.0,132.3L362.3,118.3"/>
<path d="M362.3,118.3L362.5,119.7"/>
<path d="M362.5,119.7L362.8,108.9"/>
<path d="M362.8,108.9L363.0,163.0"/>
<path d="M363.0,163.0L363.3,115.2"/>
<path d="M363.3,115.2L363.5,111.7"/>
<path d="M363.5,111.7L363.8,125.6"/>
<path d="M363.8,125.6L364.1,107.6"/>
<path d="M364.1,107.6L364.3,102.7"/>
<path d="M364.3,102.7L364.6,132.5"/>
<path d="M364.6,132.5L364.8,108.7"/>
<path d="M364.8,108.7L365.1,100.4"/>
<path d="M365.1,100.4L365.3,114.0"/>
<path d="M365.3,114.0L365.6,119.4"/>
<path d="M365.6,119.4L365.9,110.7"/>
<path d="M365.9,110.7L366.1,110.0"/>
<path d="M366.1,110.0L366.4,100.6"/>
<path d="M366.4,100.6L366.6,122.6"/>
<path d="M366.6,122.6L366.9,118.5"/>
<path d="M366.9,118.5L367.1,109.5"/>
<path d="M367.1,109.5L367.4,122.7"/>
<path d="M367.4,122.7L367.7,120.4"/>
<path d="M367.7,120.4L367.9,111.6"/>
<path d="M367.9,111.6L368.2,118.6"/>
<path d="M368.2,118.6L368.4,113.0"/>
<path d="M368.4,113.0L368.7,122.5"/>
<path d="M368.7,122.5L368.9,114.7"/>
<path d="M368.9,114.7L369.2,117.4"/>
<path d="M369.2,117.4L369.5,123.0"/>
<path d="M369.5,123.0L369.7,115.9"/>
<path d="M369.7,115.9L370.0,111.5"/>
<path d="M370.0,111.5L370.2,116.4"/>
<path d="M370.2,116.4L370.5,131.1"/>
<path d="M370.5,131.1L370.7,117.7"/>
<path d="M370.7,117.7L371.0,121.8"/>
<path d="M371.0,121.8L371.3,123.3"/>
<path d="M371.3,123.3L371.5,144.3"/>
<path d="M371.5,144.3L371.8,119.0"/>
<path d="M371.8,119.0L372.0,145.4"/>
<path d="M372.0,145.4L372.3,146.3"/>
<path d="M372.3,146.3L372.5,109.4"/>
<path d="M372.5,109.4L372.8,141.6"/>
<path d="M372.8,141.6L373.1,131.1"/>
<path d="M373.1,131.1L373.3,138.4"/>
<path d="M373.3,138.4L373.6,116.1"/>
<path d="M373.6,116.1L373.8,137.1"/>
<path d="M373.8,137.1L374.1,127.3"/>
<path d="M374.1,127.3L374.3,128.3"/>
<path d="M374.3,128.3L374.6,136.5"/>
<path d="M374.6,136.5L374.9,114.8"/>
<path d="M374.9,114.8L375.1,136.3"/>
<path d="M375.1,136.3L375.4,127.3"/>
<path d="M375.4,127.3L375.6,114.4"/>
<path d="M375.6,114.4L375.9,126.9"/>
<path d="M375.9,126.9L376.1,119.2"/>
<path d="M376.1,119.2L376.4,136.5"/>
<path d="M376.4,136.5L376.7,111.4"/>
<path d="M376.7,111.4L376.9,145.4"/>
<path d="M376.9,145.4L377.2,137.3"/>
<path d="M377.2,137.3L377.4,127.6"/>
<path d="M377.4,127.6L377.7,147.9"/>
<path d="M377.7,147.9L378.0,152.4"/>
<path d="M378.0,152.4L378.2,152.6"/>
<path d="M378.2,152.6L378.5,143.1"/>
<path d="M378.5,143.1L378.7,120.2"/>
<path d="M378.7,120.2L379.0,137.3"/>
<path d="M379.0,137.3L379.2,137.5"/>
<path d="M379.2,137.5L379.5,144.0"/>
<path d="M379.5,144.0L379.8,145.0"/>
<path d="M379.8,145.0L380.0,113.4"/>
<path d="M380.0,113.4L380.3,133.6"/>
<path d="M380.3,133.6L380.5,128.7"/>
<path d="M380.5,128.7L380.8,133.2"/>
<path d="M380.8,133.2L381.0,143.5"/>
<path d="M381.0,143.5L381.3,135.8"/>
<path d="M381.3,135.8L381.6,122.8"/>
<path d="M381.6,122.8L381.8,143.5"/>
<path d="M381.8,143.5L382.1,147.1"/>
<path d="M382.1,147.1L382.3,132.8"/>
<path d="M382.3,132.8L382.6,155.4"/>
<path d="M382.6,155.4L382.8,139.5"/>
<path d="M382.8,139.5L383.1,160.1"/>
<path d="M383.1,160.1L383.4,197.0"/>
<path d="M383.4,197.0L383.6,138.4"/>
<path d="M383.6,138.4L383.9,180.8"/>
<path d="M383.9,180.8L384.1,185.8"/>
<path d="M384.1,185.8L384.4,154.3"/>
<path d="M384.4,154.3L384.6,128.3"/>
<path d="M384.6,128.3L384.9,169.0"/>
<path d="M384.9,169.0L385.2,164.3"/>
<path d="M385.2,164.3L385.4,172.9"/>
<path d="M385.4,172.9L385.7,167.0"/>
<path d="M385.7,167.0L385.9,157.9"/>
<path d="M385.9,157.9L386.2,136.5"/>
<path d="M386.2,136.5L386.4,157.7"/>
<path d="M386.4,157.7L386.7,141.9"/>
<path d="M386.7,141.9L387.0,165.8"/>
<path d="M387.0,165.8L387.2,172.8"/>
<path d="M387.2,172.8L387.5,137.0"/>
<path d="M387.5,137.0L387.7,161.6"/>
<path d="M387.7,161.6L388.0,132.6"/>
<path d="M388.0,132.6L388.2,159.8"/>
<path d="M388.2,159.8L388.5,155.3"/>
<path d="M388.5,155.3L388.8,172.7"/>
<path d="M388.8,172.7L389.0,127.2"/>
<path d="M389.0,127.2L389.3,137.8"/>
<path d="M389.3,137.8L389.5,144.7"/>
<path d="M389.5,144.7L389.8,152.3"/>
<path d="M389.8,152.3L390.0,153.2"/>
<path d="M390.0,153.2L390.3,150.9"/>
<path d="M390.3,150.9L390.6,150.5"/>
<path d="M390.6,150.5L390.8,145.0"/>
<path d="M390.8,145.0L391.1,152.1"/>
<path d="M391.1,152.1L391.3,168.0"/>
<path d="M391.3,168.0L391.6,155.4"/>
<path d="M391.6,155.4L391.8,154.3"/>
<path d="M391.8,154.3L392.1,165.6"/>
<path d="M392.1,165.6L392.4,134.3"/>
<path d="M392.4,134.3L392.6,166.7"/>
<path d="M392.6,166.7L392.9,150.1"/>
<path d="M392.9,150.1L393.1,136.1"/>
<path d="M393.1,136.1L393.4,139.7"/>
<path d="M393.4,139.7L393.6,160.1"/>
<path d="M393.6,160.1L393.9,139.1"/>
<path d="M393.9,139.1L394.2,164.5"/>
<path d="M394.2,164.5L394.4,162.5"/>
<path d="M394.4,162.5L394.7,182.9"/>
<path d="M394.7,182.9L394.9,164.1"/>
<path d="M394.9,164.1L395.2,189.0"/>
<path d="M395.2,189.0L395.4,158.3"/>
<path d="M395.4,158.3L395.7,165.6"/>
<path d="M395.7,165.6L396.0,134.6"/>
<path d="M396.0,134.6L396.2,153.7"/>
<path d="M396.2,153.7L396.5,153.7"/>
<path d="M396.5,153.7L396.7,175.8"/>
<path d="M396.7,175.8L397.0,144.5"/>
<path d="M397.0,144.5L397.2,167.9"/>
<path d="M397.2,167.9L397.5,141.8"/>
<path d="M397.5,141.8L397.8,132.0"/>
<path d="M397.8,132.0L398.0,186.7"/>
<path d="M398.0,186.7L398.3,134.7"/>
<path d="M398.3,134.7L398.5,183.6"/>
<path d="M398.5,183.6L398.8,155.1"/>
<path d="M398.8,155.1L399.0,150.5"/>
<path d="M399.0,150.5L399.3,155.7"/>
<path d="M399.3,155.7L399.6,154.7"/>
<path d="M399.6,154.7L399.8,165.8"/>
<path d="M399.8,165.8L400.1,162.5"/>
<path d="M400.1,162.5L400.3,159.4"/>
<path d="M400.3,159.4L400.6,151.0"/>
<path d="M400.6,151.0L400.8,151.6"/>
<path d="M400.8,151.6L401.1,153.6"/>
<path d="M401.1,153.6L401.4,158.1"/>
<path d="M401.4,158.1L401.6,142.1"/>
<path d="M401.6,142.1L401.9,133.6"/>
<path d="M401.9,133.6L402.1,160.1"/>
<path d="M402.1,160.1L402.4,113.8"/>
<path d="M402.4,113.8L402.6,69.2"/>
<path d="M402.6,69.2L402.9,101.4"/>
<path d="M402.9,101.4L403.2,76.0"/>
<path d="M403.2,76.0L403.4,65.9"/>
<path d="M403.4,65.9L403.7,88.1"/>
<path d="M403.7,88.1L403.9,81.4"/>
<path d="M403.9,81.4L404.2,84.2"/>
<path d="M404.2,84.2L404.5,67.3"/>
<path d="M404.5,67.3L404.7,69.3"/>
<path d="M404.7,69.3L405.0,73.5"/>
<path d="M405.0,73.5L405.2,68.1"/>
<path d="M405.2,68.1L405.5,83.9"/>
<path d="M405.5,83.9L405.7,81.9"/>
<path d="M405.7,81.9L406.0,99.8"/>
<path d="M406.0,99.8L406.3,67.2"/>
<path d="M406.3,67.2L406.5,97.7"/>
<path d="M406.5,97.7L406.8,76.9"/>
<path d="M406.8,76.9L407.0,62.2"/>
<path d="M407.0,62.2L407.3,94.9"/>
<path d="M407.3,94.9L407.5,82.1"/>
<path d="M407.5,82.1L407.8,77.5"/>
<path d="M407.8,77.5L408.1,89.8"/>
<path d="M408.1,89.8L408.3,86.1"/>
<path d="M408.3,86.1L408.6,70.1"/>
<path d="M408.6,70.1L408.8,73.2"/>
<path d="M408.8,73.2L409.1,107.7"/>
<path d="M409.1,107.7L409.3,73.8"/>
<path d="M409.3,73.8L409.6,64.2"/>
<path d="M409.6,64.2L409.9,49.7"/>
<path d="M409.9,49.7L410.1,65.4"/>
<path d="M410.1,65.4L410.4,74.0"/>
<path d="M410.4,74.0L410.6,87.7"/>
<path d="M410.6,87.7L410.9,74.1"/>
<path d="M410.9,74.1L411.1,53.1"/>
<path d="M411.1,53.1L411.4,107.5"/>
<path d="M411.4,107.5L411.7,53.1"/>
<path d="M411.7,53.1L411.9,42.0"/>
<path d="M411.9,42.0L412.2,61.1"/>
<path d="M412.2,61.1L412.4,67.4"/>
<path d="M412.4,67.4L412.7,59.6"/>
<path d="M412.7,59.6L412.9,107.7"/>
<path d="M412.9,107.7L413.2,86.8"/>
<path d="M413.2,86.8L413.5,79.9"/>
<path d="M413.5,79.9L413.7,83.9"/>
<path d="M413.7,83.9L414.0,70.9"/>
<path d="M414.0,70.9L414.2,87.1"/>
<path d="M414.2,87.1L414.5,65.9"/>
<path d="M414.5,65.9L414.7,94.6"/>
<path d="M414.7,94.6L415.0,98.9"/>
<path d="M415.0,98.9L415.3,80.1"/>
<path d="M415.3,80.1L415.5,70.5"/>
<path d="M415.5,70.5L415.8,73.7"/>
<path d="M415.8,73.7L416.0,80.4"/>
<path d="M416.0,80.4L416.3,95.4"/>
<path d="M416.3,95.4L416.5,54.7"/>
<path d="M416.5,54.7L416.8,79.1"/>
<path d="M416.8,79.1L417.1,80.3"/>
<path d="M417.1,80.3L417.3,86.0"/>
<path d="M417.3,86.0L417.6,66.4"/>
<path d="M417.6,66.4L417.8,98.1"/>
<path d="M417.8,98.1L418.1,100.8"/>
<path d="M418.1,100.8L418.3,80.8"/>
<path d="M418.3,80.8L418.6,79.2"/>
<path d="M418.6,79.2L418.9,57.8"/>
<path d="M418.9,57.8L419.1,58.1"/>
<path d="M419.1,58.1L419.4,62.3"/>
<path d="M419.4,62.3L419.6,67.8"/>
<path d="M419.6,67.8L419.9,67.5"/>
<path d="M419.9,67.5L420.1,82.2"/>
<path d="M420.1,82.2L420.4,119.6"/>
<path d="M420.4,119.6L420.7,74.0"/>
<path d="M420.7,74.0L420.9,97.4"/>
<path d="M420.9,97.4L421.2,101.1"/>
<path d="M421.2,101.1L421.4,101.6"/>
<path d="M421.4,101.6L421.7,83.4"/>
<path d="M421.7,83.4L421.9,79.6"/>
<path d="M421.9,79.6L422.2,90.3"/>
<path d="M422.2,90.3L422.5,80.1"/>
<path d="M422.5,80.1L422.7,87.6"/>
<path d="M422.7,87.6L423.0,86.7"/>
<path d="M423.0,86.7L423.2,95.1"/>
<path d="M423.2,95.1L423.5,88.3"/>
</g>
<line x1="261.7" y1="120.40" x2="423.5" y2="120.40" stroke="#74B4E2" stroke-width="0.6"/>
<rect x="261.4" y="9.2" width="180.10" height="221.80" fill="none" stroke="#cbcbcb" stroke-width="1.2"/>
<text x="261.80" y="241.8" font-size="8.4" text-anchor="middle" fill="#1e1e1e">0</text>
<text x="287.53" y="241.8" font-size="8.4" text-anchor="middle" fill="#1e1e1e">100</text>
<text x="313.26" y="241.8" font-size="8.4" text-anchor="middle" fill="#1e1e1e">200</text>
<text x="338.99" y="241.8" font-size="8.4" text-anchor="middle" fill="#1e1e1e">300</text>
<text x="364.71" y="241.8" font-size="8.4" text-anchor="middle" fill="#1e1e1e">400</text>
<text x="390.44" y="241.8" font-size="8.4" text-anchor="middle" fill="#1e1e1e">500</text>
<text x="416.17" y="241.8" font-size="8.4" text-anchor="middle" fill="#1e1e1e">600</text>
<text x="441.90" y="241.8" font-size="8.4" text-anchor="middle" fill="#1e1e1e">700</text>
<text x="258.6" y="234.20" font-size="8.4" text-anchor="end" fill="#1e1e1e">0.9785</text>
<text x="258.6" y="197.23" font-size="8.4" text-anchor="end" fill="#1e1e1e">0.979</text>
<text x="258.6" y="160.27" font-size="8.4" text-anchor="end" fill="#1e1e1e">0.9795</text>
<text x="258.6" y="123.30" font-size="8.4" text-anchor="end" fill="#1e1e1e">0.98</text>
<text x="258.6" y="86.33" font-size="8.4" text-anchor="end" fill="#1e1e1e">0.9805</text>
<text x="258.6" y="49.37" font-size="8.4" text-anchor="end" fill="#1e1e1e">0.981</text>
<text x="258.6" y="12.40" font-size="8.4" text-anchor="end" fill="#1e1e1e">0.9815</text>
<rect x="269.3" y="208.6" width="44.2" height="18" fill="#fff" stroke="#cbcbcb" stroke-width="0.8"/>
<line x1="270.6" y1="213.1" x2="281.7" y2="213.1" stroke="#8CC4E6" stroke-width="1.2"/>
<line x1="270.6" y1="221.2" x2="281.7" y2="221.2" stroke="#FAC9B5" stroke-width="1.2"/>
<text x="282.4" y="215.8" font-size="7.5" fill="#1e1e1e">BB</text>
<text x="282.4" y="224" font-size="7.5" fill="#1e1e1e">Measured</text>
<text x="351.4" y="252" font-size="9" text-anchor="middle" fill="#1e1e1e">Measurement Number</text>
<text transform="translate(233.8,120) rotate(-90)" font-size="9" text-anchor="middle" fill="#1e1e1e">ε</text>
<text x="339.6" y="268" font-size="11" font-weight="bold" text-anchor="middle" fill="#111">(b)</text>
<line x1="42.25" y1="279.6" x2="42.25" y2="501.0" stroke="#f4f4f4" stroke-width="1"/>
<line x1="67.90" y1="279.6" x2="67.90" y2="501.0" stroke="#f4f4f4" stroke-width="1"/>
<line x1="93.55" y1="279.6" x2="93.55" y2="501.0" stroke="#f4f4f4" stroke-width="1"/>
<line x1="119.20" y1="279.6" x2="119.20" y2="501.0" stroke="#f4f4f4" stroke-width="1"/>
<line x1="144.85" y1="279.6" x2="144.85" y2="501.0" stroke="#f4f4f4" stroke-width="1"/>
<line x1="170.50" y1="279.6" x2="170.50" y2="501.0" stroke="#f4f4f4" stroke-width="1"/>
<line x1="196.15" y1="279.6" x2="196.15" y2="501.0" stroke="#f4f4f4" stroke-width="1"/>
<line x1="29.3" y1="501.00" x2="208.9" y2="501.00" stroke="#f4f4f4" stroke-width="1"/>
<line x1="29.3" y1="478.86" x2="208.9" y2="478.86" stroke="#f4f4f4" stroke-width="1"/>
<line x1="29.3" y1="456.72" x2="208.9" y2="456.72" stroke="#f4f4f4" stroke-width="1"/>
<line x1="29.3" y1="434.58" x2="208.9" y2="434.58" stroke="#f4f4f4" stroke-width="1"/>
<line x1="29.3" y1="412.44" x2="208.9" y2="412.44" stroke="#f4f4f4" stroke-width="1"/>
<line x1="29.3" y1="390.30" x2="208.9" y2="390.30" stroke="#f4f4f4" stroke-width="1"/>
<line x1="29.3" y1="368.16" x2="208.9" y2="368.16" stroke="#f4f4f4" stroke-width="1"/>
<line x1="29.3" y1="346.02" x2="208.9" y2="346.02" stroke="#f4f4f4" stroke-width="1"/>
<line x1="29.3" y1="323.88" x2="208.9" y2="323.88" stroke="#f4f4f4" stroke-width="1"/>
<line x1="29.3" y1="301.74" x2="208.9" y2="301.74" stroke="#f4f4f4" stroke-width="1"/>
<line x1="29.3" y1="279.60" x2="208.9" y2="279.60" stroke="#f4f4f4" stroke-width="1"/>
<line x1="42.25" y1="501.0" x2="42.25" y2="498.5" stroke="#cbcbcb" stroke-width="1"/>
<line x1="42.25" y1="279.6" x2="42.25" y2="282.1" stroke="#cbcbcb" stroke-width="1"/>
<line x1="67.90" y1="501.0" x2="67.90" y2="498.5" stroke="#cbcbcb" stroke-width="1"/>
<line x1="67.90" y1="279.6" x2="67.90" y2="282.1" stroke="#cbcbcb" stroke-width="1"/>
<line x1="93.55" y1="501.0" x2="93.55" y2="498.5" stroke="#cbcbcb" stroke-width="1"/>
<line x1="93.55" y1="279.6" x2="93.55" y2="282.1" stroke="#cbcbcb" stroke-width="1"/>
<line x1="119.20" y1="501.0" x2="119.20" y2="498.5" stroke="#cbcbcb" stroke-width="1"/>
<line x1="119.20" y1="279.6" x2="119.20" y2="282.1" stroke="#cbcbcb" stroke-width="1"/>
<line x1="144.85" y1="501.0" x2="144.85" y2="498.5" stroke="#cbcbcb" stroke-width="1"/>
<line x1="144.85" y1="279.6" x2="144.85" y2="282.1" stroke="#cbcbcb" stroke-width="1"/>
<line x1="170.50" y1="501.0" x2="170.50" y2="498.5" stroke="#cbcbcb" stroke-width="1"/>
<line x1="170.50" y1="279.6" x2="170.50" y2="282.1" stroke="#cbcbcb" stroke-width="1"/>
<line x1="196.15" y1="501.0" x2="196.15" y2="498.5" stroke="#cbcbcb" stroke-width="1"/>
<line x1="196.15" y1="279.6" x2="196.15" y2="282.1" stroke="#cbcbcb" stroke-width="1"/>
<line x1="29.3" y1="501.00" x2="31.8" y2="501.00" stroke="#cbcbcb" stroke-width="1"/>
<line x1="208.9" y1="501.00" x2="206.4" y2="501.00" stroke="#cbcbcb" stroke-width="1"/>
<line x1="29.3" y1="478.86" x2="31.8" y2="478.86" stroke="#cbcbcb" stroke-width="1"/>
<line x1="208.9" y1="478.86" x2="206.4" y2="478.86" stroke="#cbcbcb" stroke-width="1"/>
<line x1="29.3" y1="456.72" x2="31.8" y2="456.72" stroke="#cbcbcb" stroke-width="1"/>
<line x1="208.9" y1="456.72" x2="206.4" y2="456.72" stroke="#cbcbcb" stroke-width="1"/>
<line x1="29.3" y1="434.58" x2="31.8" y2="434.58" stroke="#cbcbcb" stroke-width="1"/>
<line x1="208.9" y1="434.58" x2="206.4" y2="434.58" stroke="#cbcbcb" stroke-width="1"/>
<line x1="29.3" y1="412.44" x2="31.8" y2="412.44" stroke="#cbcbcb" stroke-width="1"/>
<line x1="208.9" y1="412.44" x2="206.4" y2="412.44" stroke="#cbcbcb" stroke-width="1"/>
<line x1="29.3" y1="390.30" x2="31.8" y2="390.30" stroke="#cbcbcb" stroke-width="1"/>
<line x1="208.9" y1="390.30" x2="206.4" y2="390.30" stroke="#cbcbcb" stroke-width="1"/>
<line x1="29.3" y1="368.16" x2="31.8" y2="368.16" stroke="#cbcbcb" stroke-width="1"/>
<line x1="208.9" y1="368.16" x2="206.4" y2="368.16" stroke="#cbcbcb" stroke-width="1"/>
<line x1="29.3" y1="346.02" x2="31.8" y2="346.02" stroke="#cbcbcb" stroke-width="1"/>
<line x1="208.9" y1="346.02" x2="206.4" y2="346.02" stroke="#cbcbcb" stroke-width="1"/>
<line x1="29.3" y1="323.88" x2="31.8" y2="323.88" stroke="#cbcbcb" stroke-width="1"/>
<line x1="208.9" y1="323.88" x2="206.4" y2="323.88" stroke="#cbcbcb" stroke-width="1"/>
<line x1="29.3" y1="301.74" x2="31.8" y2="301.74" stroke="#cbcbcb" stroke-width="1"/>
<line x1="208.9" y1="301.74" x2="206.4" y2="301.74" stroke="#cbcbcb" stroke-width="1"/>
<line x1="29.3" y1="279.60" x2="31.8" y2="279.60" stroke="#cbcbcb" stroke-width="1"/>
<line x1="208.9" y1="279.60" x2="206.4" y2="279.60" stroke="#cbcbcb" stroke-width="1"/>
<rect x="37.12" y="492.14" width="10.26" height="8.86" fill="#27A7DB" stroke="#1F7DAE" stroke-width="0.6"/>
<rect x="47.38" y="476.65" width="10.26" height="24.35" fill="#27A7DB" stroke="#1F7DAE" stroke-width="0.6"/>
<rect x="57.64" y="470.00" width="10.26" height="31.00" fill="#27A7DB" stroke="#1F7DAE" stroke-width="0.6"/>
<rect x="67.90" y="454.51" width="10.26" height="46.49" fill="#27A7DB" stroke="#1F7DAE" stroke-width="0.6"/>
<rect x="78.16" y="423.51" width="10.26" height="77.49" fill="#27A7DB" stroke="#1F7DAE" stroke-width="0.6"/>
<rect x="88.42" y="368.16" width="10.26" height="132.84" fill="#27A7DB" stroke="#1F7DAE" stroke-width="0.6"/>
<rect x="98.68" y="312.81" width="10.26" height="188.19" fill="#27A7DB" stroke="#1F7DAE" stroke-width="0.6"/>
<rect x="108.94" y="299.53" width="10.26" height="201.47" fill="#27A7DB" stroke="#1F7DAE" stroke-width="0.6"/>
<rect x="119.20" y="321.67" width="10.26" height="179.33" fill="#27A7DB" stroke="#1F7DAE" stroke-width="0.6"/>
<rect x="129.46" y="334.95" width="10.26" height="166.05" fill="#27A7DB" stroke="#1F7DAE" stroke-width="0.6"/>
<rect x="139.72" y="350.45" width="10.26" height="150.55" fill="#27A7DB" stroke="#1F7DAE" stroke-width="0.6"/>
<rect x="149.98" y="432.37" width="10.26" height="68.63" fill="#27A7DB" stroke="#1F7DAE" stroke-width="0.6"/>
<rect x="160.24" y="445.65" width="10.26" height="55.35" fill="#27A7DB" stroke="#1F7DAE" stroke-width="0.6"/>
<rect x="170.50" y="465.58" width="10.26" height="35.42" fill="#27A7DB" stroke="#1F7DAE" stroke-width="0.6"/>
<rect x="180.76" y="487.72" width="10.26" height="13.28" fill="#27A7DB" stroke="#1F7DAE" stroke-width="0.6"/>
<rect x="191.02" y="487.72" width="10.26" height="13.28" fill="#27A7DB" stroke="#1F7DAE" stroke-width="0.6"/>
<rect x="29.3" y="279.6" width="179.60" height="221.40" fill="none" stroke="#cbcbcb" stroke-width="1.2"/>
<text x="42.65" y="511.5" font-size="8.4" text-anchor="middle" fill="#1e1e1e">-0.15</text>
<text x="68.30" y="511.5" font-size="8.4" text-anchor="middle" fill="#1e1e1e">-0.1</text>
<text x="93.95" y="511.5" font-size="8.4" text-anchor="middle" fill="#1e1e1e">-0.05</text>
<text x="119.60" y="511.5" font-size="8.4" text-anchor="middle" fill="#1e1e1e">0</text>
<text x="145.25" y="511.5" font-size="8.4" text-anchor="middle" fill="#1e1e1e">0.05</text>
<text x="170.90" y="511.5" font-size="8.4" text-anchor="middle" fill="#1e1e1e">0.1</text>
<text x="196.55" y="511.5" font-size="8.4" text-anchor="middle" fill="#1e1e1e">0.15</text>
<text x="27.2" y="504.20" font-size="8.4" text-anchor="end" fill="#1e1e1e">0</text>
<text x="27.2" y="482.06" font-size="8.4" text-anchor="end" fill="#1e1e1e">10</text>
<text x="27.2" y="459.92" font-size="8.4" text-anchor="end" fill="#1e1e1e">20</text>
<text x="27.2" y="437.78" font-size="8.4" text-anchor="end" fill="#1e1e1e">30</text>
<text x="27.2" y="415.64" font-size="8.4" text-anchor="end" fill="#1e1e1e">40</text>
<text x="27.2" y="393.50" font-size="8.4" text-anchor="end" fill="#1e1e1e">50</text>
<text x="27.2" y="371.36" font-size="8.4" text-anchor="end" fill="#1e1e1e">60</text>
<text x="27.2" y="349.22" font-size="8.4" text-anchor="end" fill="#1e1e1e">70</text>
<text x="27.2" y="327.08" font-size="8.4" text-anchor="end" fill="#1e1e1e">80</text>
<text x="27.2" y="304.94" font-size="8.4" text-anchor="end" fill="#1e1e1e">90</text>
<text x="27.2" y="282.80" font-size="8.4" text-anchor="end" fill="#1e1e1e">100</text>
<text x="97.3" y="523.3" font-size="12" fill="#1e1e1e">T<tspan font-size="9" dy="5">meas</tspan><tspan dy="-5">−T</tspan><tspan font-size="9" dy="5">BB</tspan></text>
<text transform="translate(10.7,402.4) rotate(-90)" font-size="10.9" text-anchor="middle" fill="#1e1e1e">Number of measurements</text>
<text x="101.4" y="545" font-size="11" font-weight="bold" text-anchor="middle" fill="#111">(c)</text>
<line x1="288.25" y1="279.5" x2="288.25" y2="500.75" stroke="#f4f4f4" stroke-width="1"/>
<line x1="322.38" y1="279.5" x2="322.38" y2="500.75" stroke="#f4f4f4" stroke-width="1"/>
<line x1="356.50" y1="279.5" x2="356.50" y2="500.75" stroke="#f4f4f4" stroke-width="1"/>
<line x1="390.62" y1="279.5" x2="390.62" y2="500.75" stroke="#f4f4f4" stroke-width="1"/>
<line x1="424.75" y1="279.5" x2="424.75" y2="500.75" stroke="#f4f4f4" stroke-width="1"/>
<line x1="266.0" y1="500.75" x2="445.5" y2="500.75" stroke="#f4f4f4" stroke-width="1"/>
<line x1="266.0" y1="463.88" x2="445.5" y2="463.88" stroke="#f4f4f4" stroke-width="1"/>
<line x1="266.0" y1="427.00" x2="445.5" y2="427.00" stroke="#f4f4f4" stroke-width="1"/>
<line x1="266.0" y1="390.12" x2="445.5" y2="390.12" stroke="#f4f4f4" stroke-width="1"/>
<line x1="266.0" y1="353.25" x2="445.5" y2="353.25" stroke="#f4f4f4" stroke-width="1"/>
<line x1="266.0" y1="316.38" x2="445.5" y2="316.38" stroke="#f4f4f4" stroke-width="1"/>
<line x1="266.0" y1="279.50" x2="445.5" y2="279.50" stroke="#f4f4f4" stroke-width="1"/>
<line x1="288.25" y1="500.75" x2="288.25" y2="498.25" stroke="#cbcbcb" stroke-width="1"/>
<line x1="288.25" y1="279.5" x2="288.25" y2="282.0" stroke="#cbcbcb" stroke-width="1"/>
<line x1="322.38" y1="500.75" x2="322.38" y2="498.25" stroke="#cbcbcb" stroke-width="1"/>
<line x1="322.38" y1="279.5" x2="322.38" y2="282.0" stroke="#cbcbcb" stroke-width="1"/>
<line x1="356.50" y1="500.75" x2="356.50" y2="498.25" stroke="#cbcbcb" stroke-width="1"/>
<line x1="356.50" y1="279.5" x2="356.50" y2="282.0" stroke="#cbcbcb" stroke-width="1"/>
<line x1="390.62" y1="500.75" x2="390.62" y2="498.25" stroke="#cbcbcb" stroke-width="1"/>
<line x1="390.62" y1="279.5" x2="390.62" y2="282.0" stroke="#cbcbcb" stroke-width="1"/>
<line x1="424.75" y1="500.75" x2="424.75" y2="498.25" stroke="#cbcbcb" stroke-width="1"/>
<line x1="424.75" y1="279.5" x2="424.75" y2="282.0" stroke="#cbcbcb" stroke-width="1"/>
<line x1="266.0" y1="500.75" x2="268.5" y2="500.75" stroke="#cbcbcb" stroke-width="1"/>
<line x1="445.5" y1="500.75" x2="443.0" y2="500.75" stroke="#cbcbcb" stroke-width="1"/>
<line x1="266.0" y1="463.88" x2="268.5" y2="463.88" stroke="#cbcbcb" stroke-width="1"/>
<line x1="445.5" y1="463.88" x2="443.0" y2="463.88" stroke="#cbcbcb" stroke-width="1"/>
<line x1="266.0" y1="427.00" x2="268.5" y2="427.00" stroke="#cbcbcb" stroke-width="1"/>
<line x1="445.5" y1="427.00" x2="443.0" y2="427.00" stroke="#cbcbcb" stroke-width="1"/>
<line x1="266.0" y1="390.12" x2="268.5" y2="390.12" stroke="#cbcbcb" stroke-width="1"/>
<line x1="445.5" y1="390.12" x2="443.0" y2="390.12" stroke="#cbcbcb" stroke-width="1"/>
<line x1="266.0" y1="353.25" x2="268.5" y2="353.25" stroke="#cbcbcb" stroke-width="1"/>
<line x1="445.5" y1="353.25" x2="443.0" y2="353.25" stroke="#cbcbcb" stroke-width="1"/>
<line x1="266.0" y1="316.38" x2="268.5" y2="316.38" stroke="#cbcbcb" stroke-width="1"/>
<line x1="445.5" y1="316.38" x2="443.0" y2="316.38" stroke="#cbcbcb" stroke-width="1"/>
<line x1="266.0" y1="279.50" x2="268.5" y2="279.50" stroke="#cbcbcb" stroke-width="1"/>
<line x1="445.5" y1="279.50" x2="443.0" y2="279.50" stroke="#cbcbcb" stroke-width="1"/>
<rect x="274.60" y="498.91" width="13.65" height="1.84" fill="#27A7DB" stroke="#1F7DAE" stroke-width="0.6"/>
<rect x="288.25" y="487.84" width="13.65" height="12.91" fill="#27A7DB" stroke="#1F7DAE" stroke-width="0.6"/>
<rect x="301.90" y="460.19" width="13.65" height="40.56" fill="#27A7DB" stroke="#1F7DAE" stroke-width="0.6"/>
<rect x="315.55" y="360.62" width="13.65" height="140.12" fill="#27A7DB" stroke="#1F7DAE" stroke-width="0.6"/>
<rect x="329.20" y="314.53" width="13.65" height="186.22" fill="#27A7DB" stroke="#1F7DAE" stroke-width="0.6"/>
<rect x="342.85" y="305.31" width="13.65" height="195.44" fill="#27A7DB" stroke="#1F7DAE" stroke-width="0.6"/>
<rect x="356.50" y="305.31" width="13.65" height="195.44" fill="#27A7DB" stroke="#1F7DAE" stroke-width="0.6"/>
<rect x="370.15" y="288.72" width="13.65" height="212.03" fill="#27A7DB" stroke="#1F7DAE" stroke-width="0.6"/>
<rect x="383.80" y="382.75" width="13.65" height="118.00" fill="#27A7DB" stroke="#1F7DAE" stroke-width="0.6"/>
<rect x="397.45" y="460.19" width="13.65" height="40.56" fill="#27A7DB" stroke="#1F7DAE" stroke-width="0.6"/>
<rect x="411.10" y="486.00" width="13.65" height="14.75" fill="#27A7DB" stroke="#1F7DAE" stroke-width="0.6"/>
<rect x="424.75" y="498.91" width="13.65" height="1.84" fill="#27A7DB" stroke="#1F7DAE" stroke-width="0.6"/>
<rect x="266.0" y="279.5" width="179.50" height="221.25" fill="none" stroke="#cbcbcb" stroke-width="1.2"/>
<text x="288.65" y="511.3" font-size="8.4" text-anchor="middle" fill="#1e1e1e">-1</text>
<text x="322.77" y="511.3" font-size="8.4" text-anchor="middle" fill="#1e1e1e">-0.5</text>
<text x="356.90" y="511.3" font-size="8.4" text-anchor="middle" fill="#1e1e1e">0</text>
<text x="391.02" y="511.3" font-size="8.4" text-anchor="middle" fill="#1e1e1e">0.5</text>
<text x="425.15" y="511.3" font-size="8.4" text-anchor="middle" fill="#1e1e1e">1</text>
<text x="263.8" y="503.95" font-size="8.4" text-anchor="end" fill="#1e1e1e">0</text>
<text x="263.8" y="467.07" font-size="8.4" text-anchor="end" fill="#1e1e1e">20</text>
<text x="263.8" y="430.20" font-size="8.4" text-anchor="end" fill="#1e1e1e">40</text>
<text x="263.8" y="393.32" font-size="8.4" text-anchor="end" fill="#1e1e1e">60</text>
<text x="263.8" y="356.45" font-size="8.4" text-anchor="end" fill="#1e1e1e">80</text>
<text x="263.8" y="319.57" font-size="8.4" text-anchor="end" fill="#1e1e1e">100</text>
<text x="263.8" y="282.70" font-size="8.4" text-anchor="end" fill="#1e1e1e">120</text>
<text x="335" y="523.3" font-size="12" fill="#1e1e1e">ε<tspan font-size="9" dy="5" dx="1.3">meas</tspan><tspan dy="-5" dx="0.3"> − ε</tspan><tspan font-size="9" dy="5">eff</tspan></text>
<text x="426.9" y="524.2" font-size="8" fill="#555">×</text>
<text x="433.3" y="524.2" font-size="8" fill="#555">10</text>
<text x="441.3" y="520" font-size="6" fill="#555">-3</text>
<text transform="translate(244.6,402.4) rotate(-90)" font-size="10.9" text-anchor="middle" fill="#1e1e1e">Number of measurements</text>
<text x="339.6" y="545" font-size="11" font-weight="bold" text-anchor="middle" fill="#111">(d)</text>
</svg>
</body></html>
